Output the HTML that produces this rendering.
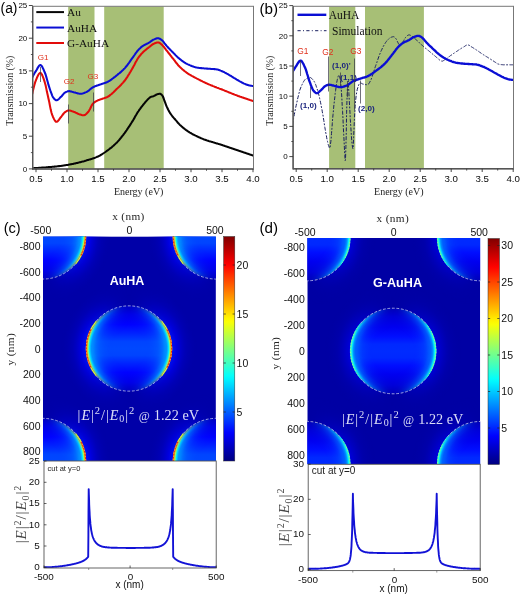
<!DOCTYPE html><html><head><meta charset="utf-8"><title>Figure</title><style>html,body{margin:0;padding:0;background:#fff;overflow:hidden}body{width:520px;height:594px}</style></head><body><svg width="520" height="594" viewBox="0 0 520 594" style="display:block"><defs><clipPath id="clipa"><rect x="32.7" y="6.3" width="220.8" height="162.7"/></clipPath><clipPath id="clipb"><rect x="293.1" y="6.3" width="220.39999999999998" height="162.5"/></clipPath><clipPath id="hcc"><rect x="43" y="236.4" width="172.9" height="224.6"/></clipPath><linearGradient id="inc" x1="0" y1="0" x2="0" y2="1"><stop offset="0" stop-color="#0000c0"/><stop offset="0.1" stop-color="#0000e7"/><stop offset="0.22" stop-color="#0002ff"/><stop offset="0.33" stop-color="#0025ff"/><stop offset="0.42" stop-color="#0044ff"/><stop offset="0.5" stop-color="#0048ff"/><stop offset="0.58" stop-color="#0044ff"/><stop offset="0.67" stop-color="#0025ff"/><stop offset="0.78" stop-color="#0002ff"/><stop offset="0.9" stop-color="#0000e7"/><stop offset="1" stop-color="#0000c0"/></linearGradient><radialGradient id="vdc" cx="0.5" cy="0.5" r="0.5"><stop offset="0.42" stop-color="#0065ff" stop-opacity="0"/><stop offset="0.68" stop-color="#0079ff" stop-opacity="0.55"/><stop offset="0.84" stop-color="#00a1ff" stop-opacity="0.9"/><stop offset="1" stop-color="#00e7ff" stop-opacity="1"/></radialGradient><radialGradient id="rgc" cx="0.5" cy="0.5" r="0.5"><stop offset="0.78" stop-color="#008dff" stop-opacity="0"/><stop offset="0.88" stop-color="#008dff" stop-opacity="0.7"/><stop offset="0.93" stop-color="#00fdff" stop-opacity="0.95"/><stop offset="0.965" stop-color="#ddff22" stop-opacity="1"/><stop offset="1" stop-color="#ba0000" stop-opacity="1"/></radialGradient><linearGradient id="hmc" x1="0" y1="0" x2="1" y2="0"><stop offset="0.000" stop-color="#fff" stop-opacity="1.000"/><stop offset="0.050" stop-color="#fff" stop-opacity="0.845"/><stop offset="0.100" stop-color="#fff" stop-opacity="0.700"/><stop offset="0.150" stop-color="#fff" stop-opacity="0.565"/><stop offset="0.200" stop-color="#fff" stop-opacity="0.442"/><stop offset="0.250" stop-color="#fff" stop-opacity="0.330"/><stop offset="0.300" stop-color="#fff" stop-opacity="0.231"/><stop offset="0.350" stop-color="#fff" stop-opacity="0.146"/><stop offset="0.400" stop-color="#fff" stop-opacity="0.076"/><stop offset="0.450" stop-color="#fff" stop-opacity="0.025"/><stop offset="0.500" stop-color="#fff" stop-opacity="0.000"/><stop offset="0.550" stop-color="#fff" stop-opacity="0.025"/><stop offset="0.600" stop-color="#fff" stop-opacity="0.076"/><stop offset="0.650" stop-color="#fff" stop-opacity="0.146"/><stop offset="0.700" stop-color="#fff" stop-opacity="0.231"/><stop offset="0.750" stop-color="#fff" stop-opacity="0.330"/><stop offset="0.800" stop-color="#fff" stop-opacity="0.442"/><stop offset="0.850" stop-color="#fff" stop-opacity="0.565"/><stop offset="0.900" stop-color="#fff" stop-opacity="0.700"/><stop offset="0.950" stop-color="#fff" stop-opacity="0.845"/><stop offset="1.000" stop-color="#fff" stop-opacity="1.000"/></linearGradient><linearGradient id="hnc" x1="0" y1="0" x2="1" y2="0"><stop offset="0.000" stop-color="#fff" stop-opacity="1.000"/><stop offset="0.050" stop-color="#fff" stop-opacity="0.729"/><stop offset="0.100" stop-color="#fff" stop-opacity="0.512"/><stop offset="0.150" stop-color="#fff" stop-opacity="0.343"/><stop offset="0.200" stop-color="#fff" stop-opacity="0.216"/><stop offset="0.250" stop-color="#fff" stop-opacity="0.125"/><stop offset="0.300" stop-color="#fff" stop-opacity="0.064"/><stop offset="0.350" stop-color="#fff" stop-opacity="0.027"/><stop offset="0.400" stop-color="#fff" stop-opacity="0.008"/><stop offset="0.450" stop-color="#fff" stop-opacity="0.001"/><stop offset="0.500" stop-color="#fff" stop-opacity="0.000"/><stop offset="0.550" stop-color="#fff" stop-opacity="0.001"/><stop offset="0.600" stop-color="#fff" stop-opacity="0.008"/><stop offset="0.650" stop-color="#fff" stop-opacity="0.027"/><stop offset="0.700" stop-color="#fff" stop-opacity="0.064"/><stop offset="0.750" stop-color="#fff" stop-opacity="0.125"/><stop offset="0.800" stop-color="#fff" stop-opacity="0.216"/><stop offset="0.850" stop-color="#fff" stop-opacity="0.343"/><stop offset="0.900" stop-color="#fff" stop-opacity="0.512"/><stop offset="0.950" stop-color="#fff" stop-opacity="0.729"/><stop offset="1.000" stop-color="#fff" stop-opacity="1.000"/></linearGradient><linearGradient id="hoc" x1="0" y1="0" x2="1" y2="0"><stop offset="0.000" stop-color="#fff" stop-opacity="1.000"/><stop offset="0.050" stop-color="#fff" stop-opacity="1.000"/><stop offset="0.100" stop-color="#fff" stop-opacity="1.000"/><stop offset="0.150" stop-color="#fff" stop-opacity="1.000"/><stop offset="0.200" stop-color="#fff" stop-opacity="0.845"/><stop offset="0.250" stop-color="#fff" stop-opacity="0.631"/><stop offset="0.300" stop-color="#fff" stop-opacity="0.442"/><stop offset="0.350" stop-color="#fff" stop-opacity="0.279"/><stop offset="0.400" stop-color="#fff" stop-opacity="0.146"/><stop offset="0.450" stop-color="#fff" stop-opacity="0.048"/><stop offset="0.500" stop-color="#fff" stop-opacity="0.000"/><stop offset="0.550" stop-color="#fff" stop-opacity="0.048"/><stop offset="0.600" stop-color="#fff" stop-opacity="0.146"/><stop offset="0.650" stop-color="#fff" stop-opacity="0.279"/><stop offset="0.700" stop-color="#fff" stop-opacity="0.442"/><stop offset="0.750" stop-color="#fff" stop-opacity="0.631"/><stop offset="0.800" stop-color="#fff" stop-opacity="0.845"/><stop offset="0.850" stop-color="#fff" stop-opacity="1.000"/><stop offset="0.900" stop-color="#fff" stop-opacity="1.000"/><stop offset="0.950" stop-color="#fff" stop-opacity="1.000"/><stop offset="1.000" stop-color="#fff" stop-opacity="1.000"/></linearGradient><radialGradient id="ogc" cx="0.5" cy="0.5" r="0.5"><stop offset="0.62" stop-color="#0014ff" stop-opacity="1"/><stop offset="0.70" stop-color="#0000ee" stop-opacity="0.8"/><stop offset="0.82" stop-color="#0000c9" stop-opacity="0.45"/><stop offset="1" stop-color="#0000a8" stop-opacity="0"/></radialGradient><mask id="mac" maskUnits="userSpaceOnUse" x="-68.32000000000001" y="-68.32000000000001" width="136.64000000000001" height="136.64000000000001"><rect x="-42.7" y="-42.7" width="85.4" height="85.4" fill="url(#hmc)"/></mask><mask id="mbc" maskUnits="userSpaceOnUse" x="-68.32000000000001" y="-68.32000000000001" width="136.64000000000001" height="136.64000000000001"><rect x="-42.7" y="-42.7" width="85.4" height="85.4" fill="url(#hnc)"/></mask><mask id="mcc" maskUnits="userSpaceOnUse" x="-68.32000000000001" y="-68.32000000000001" width="136.64000000000001" height="136.64000000000001"><rect x="-68.32000000000001" y="-68.32000000000001" width="136.64000000000001" height="136.64000000000001" fill="url(#hoc)"/></mask><linearGradient id="cbc" x1="0" y1="0" x2="0" y2="1"><stop offset="0.0000" stop-color="#800000"/><stop offset="0.0159" stop-color="#900000"/><stop offset="0.0317" stop-color="#a00000"/><stop offset="0.0476" stop-color="#b00000"/><stop offset="0.0635" stop-color="#c00000"/><stop offset="0.0794" stop-color="#d00000"/><stop offset="0.0952" stop-color="#e10000"/><stop offset="0.1111" stop-color="#f10000"/><stop offset="0.1270" stop-color="#ff0200"/><stop offset="0.1429" stop-color="#ff1200"/><stop offset="0.1587" stop-color="#ff2200"/><stop offset="0.1746" stop-color="#ff3300"/><stop offset="0.1905" stop-color="#ff4300"/><stop offset="0.2063" stop-color="#ff5300"/><stop offset="0.2222" stop-color="#ff6300"/><stop offset="0.2381" stop-color="#ff7300"/><stop offset="0.2540" stop-color="#ff8400"/><stop offset="0.2698" stop-color="#ff9400"/><stop offset="0.2857" stop-color="#ffa400"/><stop offset="0.3016" stop-color="#ffb400"/><stop offset="0.3175" stop-color="#ffc400"/><stop offset="0.3333" stop-color="#ffd400"/><stop offset="0.3492" stop-color="#ffe500"/><stop offset="0.3651" stop-color="#fff500"/><stop offset="0.3810" stop-color="#f9ff06"/><stop offset="0.3968" stop-color="#e9ff16"/><stop offset="0.4127" stop-color="#d9ff26"/><stop offset="0.4286" stop-color="#c8ff37"/><stop offset="0.4444" stop-color="#b8ff47"/><stop offset="0.4603" stop-color="#a8ff57"/><stop offset="0.4762" stop-color="#98ff67"/><stop offset="0.4921" stop-color="#88ff77"/><stop offset="0.5079" stop-color="#77ff88"/><stop offset="0.5238" stop-color="#67ff98"/><stop offset="0.5397" stop-color="#57ffa8"/><stop offset="0.5556" stop-color="#47ffb8"/><stop offset="0.5714" stop-color="#37ffc8"/><stop offset="0.5873" stop-color="#26ffd9"/><stop offset="0.6032" stop-color="#16ffe9"/><stop offset="0.6190" stop-color="#06fff9"/><stop offset="0.6349" stop-color="#00f5ff"/><stop offset="0.6508" stop-color="#00e5ff"/><stop offset="0.6667" stop-color="#00d5ff"/><stop offset="0.6825" stop-color="#00c4ff"/><stop offset="0.6984" stop-color="#00b4ff"/><stop offset="0.7143" stop-color="#00a4ff"/><stop offset="0.7302" stop-color="#0094ff"/><stop offset="0.7460" stop-color="#0084ff"/><stop offset="0.7619" stop-color="#0073ff"/><stop offset="0.7778" stop-color="#0063ff"/><stop offset="0.7937" stop-color="#0053ff"/><stop offset="0.8095" stop-color="#0043ff"/><stop offset="0.8254" stop-color="#0033ff"/><stop offset="0.8413" stop-color="#0022ff"/><stop offset="0.8571" stop-color="#0012ff"/><stop offset="0.8730" stop-color="#0002ff"/><stop offset="0.8889" stop-color="#0000f1"/><stop offset="0.9048" stop-color="#0000e1"/><stop offset="0.9206" stop-color="#0000d0"/><stop offset="0.9365" stop-color="#0000c0"/><stop offset="0.9524" stop-color="#0000b0"/><stop offset="0.9683" stop-color="#0000a0"/><stop offset="0.9841" stop-color="#000090"/><stop offset="1.0000" stop-color="#000080"/></linearGradient><clipPath id="hcd"><rect x="307.3" y="238" width="172.89999999999998" height="226.3"/></clipPath><linearGradient id="ind" x1="0" y1="0" x2="0" y2="1"><stop offset="0" stop-color="#0000b7"/><stop offset="0.1" stop-color="#0000d9"/><stop offset="0.22" stop-color="#0000ef"/><stop offset="0.33" stop-color="#000eff"/><stop offset="0.42" stop-color="#0028ff"/><stop offset="0.5" stop-color="#002bff"/><stop offset="0.58" stop-color="#0028ff"/><stop offset="0.67" stop-color="#000eff"/><stop offset="0.78" stop-color="#0000ef"/><stop offset="0.9" stop-color="#0000d9"/><stop offset="1" stop-color="#0000b7"/></linearGradient><radialGradient id="vdd" cx="0.5" cy="0.5" r="0.5"><stop offset="0.5" stop-color="#0045ff" stop-opacity="0"/><stop offset="0.72" stop-color="#0056ff" stop-opacity="0.55"/><stop offset="0.86" stop-color="#0078ff" stop-opacity="0.9"/><stop offset="1" stop-color="#00b3ff" stop-opacity="1"/></radialGradient><radialGradient id="rgd" cx="0.5" cy="0.5" r="0.5"><stop offset="0.78" stop-color="#0056ff" stop-opacity="0"/><stop offset="0.88" stop-color="#0056ff" stop-opacity="0.7"/><stop offset="0.93" stop-color="#0097ff" stop-opacity="0.95"/><stop offset="0.965" stop-color="#00faff" stop-opacity="1"/><stop offset="1" stop-color="#7eff81" stop-opacity="1"/></radialGradient><linearGradient id="hmd" x1="0" y1="0" x2="1" y2="0"><stop offset="0.000" stop-color="#fff" stop-opacity="1.000"/><stop offset="0.050" stop-color="#fff" stop-opacity="0.845"/><stop offset="0.100" stop-color="#fff" stop-opacity="0.700"/><stop offset="0.150" stop-color="#fff" stop-opacity="0.565"/><stop offset="0.200" stop-color="#fff" stop-opacity="0.442"/><stop offset="0.250" stop-color="#fff" stop-opacity="0.330"/><stop offset="0.300" stop-color="#fff" stop-opacity="0.231"/><stop offset="0.350" stop-color="#fff" stop-opacity="0.146"/><stop offset="0.400" stop-color="#fff" stop-opacity="0.076"/><stop offset="0.450" stop-color="#fff" stop-opacity="0.025"/><stop offset="0.500" stop-color="#fff" stop-opacity="0.000"/><stop offset="0.550" stop-color="#fff" stop-opacity="0.025"/><stop offset="0.600" stop-color="#fff" stop-opacity="0.076"/><stop offset="0.650" stop-color="#fff" stop-opacity="0.146"/><stop offset="0.700" stop-color="#fff" stop-opacity="0.231"/><stop offset="0.750" stop-color="#fff" stop-opacity="0.330"/><stop offset="0.800" stop-color="#fff" stop-opacity="0.442"/><stop offset="0.850" stop-color="#fff" stop-opacity="0.565"/><stop offset="0.900" stop-color="#fff" stop-opacity="0.700"/><stop offset="0.950" stop-color="#fff" stop-opacity="0.845"/><stop offset="1.000" stop-color="#fff" stop-opacity="1.000"/></linearGradient><linearGradient id="hnd" x1="0" y1="0" x2="1" y2="0"><stop offset="0.000" stop-color="#fff" stop-opacity="1.000"/><stop offset="0.050" stop-color="#fff" stop-opacity="0.777"/><stop offset="0.100" stop-color="#fff" stop-opacity="0.585"/><stop offset="0.150" stop-color="#fff" stop-opacity="0.425"/><stop offset="0.200" stop-color="#fff" stop-opacity="0.293"/><stop offset="0.250" stop-color="#fff" stop-opacity="0.189"/><stop offset="0.300" stop-color="#fff" stop-opacity="0.111"/><stop offset="0.350" stop-color="#fff" stop-opacity="0.056"/><stop offset="0.400" stop-color="#fff" stop-opacity="0.021"/><stop offset="0.450" stop-color="#fff" stop-opacity="0.004"/><stop offset="0.500" stop-color="#fff" stop-opacity="0.000"/><stop offset="0.550" stop-color="#fff" stop-opacity="0.004"/><stop offset="0.600" stop-color="#fff" stop-opacity="0.021"/><stop offset="0.650" stop-color="#fff" stop-opacity="0.056"/><stop offset="0.700" stop-color="#fff" stop-opacity="0.111"/><stop offset="0.750" stop-color="#fff" stop-opacity="0.189"/><stop offset="0.800" stop-color="#fff" stop-opacity="0.293"/><stop offset="0.850" stop-color="#fff" stop-opacity="0.425"/><stop offset="0.900" stop-color="#fff" stop-opacity="0.585"/><stop offset="0.950" stop-color="#fff" stop-opacity="0.777"/><stop offset="1.000" stop-color="#fff" stop-opacity="1.000"/></linearGradient><linearGradient id="hod" x1="0" y1="0" x2="1" y2="0"><stop offset="0.000" stop-color="#fff" stop-opacity="1.000"/><stop offset="0.050" stop-color="#fff" stop-opacity="1.000"/><stop offset="0.100" stop-color="#fff" stop-opacity="1.000"/><stop offset="0.150" stop-color="#fff" stop-opacity="1.000"/><stop offset="0.200" stop-color="#fff" stop-opacity="0.845"/><stop offset="0.250" stop-color="#fff" stop-opacity="0.631"/><stop offset="0.300" stop-color="#fff" stop-opacity="0.442"/><stop offset="0.350" stop-color="#fff" stop-opacity="0.279"/><stop offset="0.400" stop-color="#fff" stop-opacity="0.146"/><stop offset="0.450" stop-color="#fff" stop-opacity="0.048"/><stop offset="0.500" stop-color="#fff" stop-opacity="0.000"/><stop offset="0.550" stop-color="#fff" stop-opacity="0.048"/><stop offset="0.600" stop-color="#fff" stop-opacity="0.146"/><stop offset="0.650" stop-color="#fff" stop-opacity="0.279"/><stop offset="0.700" stop-color="#fff" stop-opacity="0.442"/><stop offset="0.750" stop-color="#fff" stop-opacity="0.631"/><stop offset="0.800" stop-color="#fff" stop-opacity="0.845"/><stop offset="0.850" stop-color="#fff" stop-opacity="1.000"/><stop offset="0.900" stop-color="#fff" stop-opacity="1.000"/><stop offset="0.950" stop-color="#fff" stop-opacity="1.000"/><stop offset="1.000" stop-color="#fff" stop-opacity="1.000"/></linearGradient><radialGradient id="ogd" cx="0.5" cy="0.5" r="0.5"><stop offset="0.62" stop-color="#0000e8" stop-opacity="1"/><stop offset="0.70" stop-color="#0000ce" stop-opacity="0.8"/><stop offset="0.82" stop-color="#0000b4" stop-opacity="0.45"/><stop offset="1" stop-color="#0000a4" stop-opacity="0"/></radialGradient><mask id="mad" maskUnits="userSpaceOnUse" x="-68.48" y="-68.48" width="136.96" height="136.96"><rect x="-42.8" y="-42.8" width="85.6" height="85.6" fill="url(#hmd)"/></mask><mask id="mbd" maskUnits="userSpaceOnUse" x="-68.48" y="-68.48" width="136.96" height="136.96"><rect x="-42.8" y="-42.8" width="85.6" height="85.6" fill="url(#hnd)"/></mask><mask id="mcd" maskUnits="userSpaceOnUse" x="-68.48" y="-68.48" width="136.96" height="136.96"><rect x="-68.48" y="-68.48" width="136.96" height="136.96" fill="url(#hod)"/></mask><linearGradient id="cbd" x1="0" y1="0" x2="0" y2="1"><stop offset="0.0000" stop-color="#800000"/><stop offset="0.0159" stop-color="#900000"/><stop offset="0.0317" stop-color="#a00000"/><stop offset="0.0476" stop-color="#b00000"/><stop offset="0.0635" stop-color="#c00000"/><stop offset="0.0794" stop-color="#d00000"/><stop offset="0.0952" stop-color="#e10000"/><stop offset="0.1111" stop-color="#f10000"/><stop offset="0.1270" stop-color="#ff0200"/><stop offset="0.1429" stop-color="#ff1200"/><stop offset="0.1587" stop-color="#ff2200"/><stop offset="0.1746" stop-color="#ff3300"/><stop offset="0.1905" stop-color="#ff4300"/><stop offset="0.2063" stop-color="#ff5300"/><stop offset="0.2222" stop-color="#ff6300"/><stop offset="0.2381" stop-color="#ff7300"/><stop offset="0.2540" stop-color="#ff8400"/><stop offset="0.2698" stop-color="#ff9400"/><stop offset="0.2857" stop-color="#ffa400"/><stop offset="0.3016" stop-color="#ffb400"/><stop offset="0.3175" stop-color="#ffc400"/><stop offset="0.3333" stop-color="#ffd400"/><stop offset="0.3492" stop-color="#ffe500"/><stop offset="0.3651" stop-color="#fff500"/><stop offset="0.3810" stop-color="#f9ff06"/><stop offset="0.3968" stop-color="#e9ff16"/><stop offset="0.4127" stop-color="#d9ff26"/><stop offset="0.4286" stop-color="#c8ff37"/><stop offset="0.4444" stop-color="#b8ff47"/><stop offset="0.4603" stop-color="#a8ff57"/><stop offset="0.4762" stop-color="#98ff67"/><stop offset="0.4921" stop-color="#88ff77"/><stop offset="0.5079" stop-color="#77ff88"/><stop offset="0.5238" stop-color="#67ff98"/><stop offset="0.5397" stop-color="#57ffa8"/><stop offset="0.5556" stop-color="#47ffb8"/><stop offset="0.5714" stop-color="#37ffc8"/><stop offset="0.5873" stop-color="#26ffd9"/><stop offset="0.6032" stop-color="#16ffe9"/><stop offset="0.6190" stop-color="#06fff9"/><stop offset="0.6349" stop-color="#00f5ff"/><stop offset="0.6508" stop-color="#00e5ff"/><stop offset="0.6667" stop-color="#00d5ff"/><stop offset="0.6825" stop-color="#00c4ff"/><stop offset="0.6984" stop-color="#00b4ff"/><stop offset="0.7143" stop-color="#00a4ff"/><stop offset="0.7302" stop-color="#0094ff"/><stop offset="0.7460" stop-color="#0084ff"/><stop offset="0.7619" stop-color="#0073ff"/><stop offset="0.7778" stop-color="#0063ff"/><stop offset="0.7937" stop-color="#0053ff"/><stop offset="0.8095" stop-color="#0043ff"/><stop offset="0.8254" stop-color="#0033ff"/><stop offset="0.8413" stop-color="#0022ff"/><stop offset="0.8571" stop-color="#0012ff"/><stop offset="0.8730" stop-color="#0002ff"/><stop offset="0.8889" stop-color="#0000f1"/><stop offset="0.9048" stop-color="#0000e1"/><stop offset="0.9206" stop-color="#0000d0"/><stop offset="0.9365" stop-color="#0000c0"/><stop offset="0.9524" stop-color="#0000b0"/><stop offset="0.9683" stop-color="#0000a0"/><stop offset="0.9841" stop-color="#000090"/><stop offset="1.0000" stop-color="#000080"/></linearGradient><clipPath id="ccc"><rect x="44" y="461" width="172.2" height="109"/></clipPath><clipPath id="ccd"><rect x="308.2" y="464.3" width="172.0" height="108.30000000000001"/></clipPath></defs><rect x="0" y="0" width="520" height="594" fill="#fff"/>
<g clip-path="url(#clipa)">
<rect x="68.2" y="6.3" width="26.3" height="162.7" fill="#a7bf76"/>
<rect x="104.2" y="6.3" width="59.5" height="162.7" fill="#a7bf76"/>
<path d="M32.3 168.2 L33.0 168.2 L33.8 168.2 L34.5 168.1 L35.2 168.1 L36.0 168.0 L36.7 168.0 L37.4 167.9 L38.2 167.9 L38.9 167.8 L39.7 167.8 L40.4 167.7 L41.1 167.7 L41.9 167.6 L42.6 167.6 L43.4 167.5 L44.1 167.5 L44.8 167.4 L45.6 167.4 L46.3 167.3 L47.0 167.2 L47.8 167.2 L48.5 167.1 L49.3 167.1 L50.0 167.0 L50.7 167.0 L51.5 166.9 L52.2 166.8 L52.9 166.8 L53.7 166.7 L54.4 166.6 L55.2 166.6 L55.9 166.5 L56.6 166.4 L57.4 166.3 L58.1 166.2 L58.9 166.1 L59.6 166.1 L60.3 166.0 L61.1 165.9 L61.8 165.8 L62.5 165.7 L63.3 165.5 L64.0 165.4 L64.8 165.3 L65.5 165.2 L66.2 165.1 L67.0 165.0 L67.7 164.9 L68.5 164.7 L69.2 164.6 L69.9 164.5 L70.7 164.3 L71.4 164.2 L72.1 164.0 L72.9 163.9 L73.6 163.7 L74.4 163.5 L75.1 163.4 L75.8 163.2 L76.6 163.0 L77.3 162.9 L78.0 162.7 L78.8 162.5 L79.5 162.3 L80.3 162.2 L81.0 162.0 L81.7 161.8 L82.5 161.6 L83.2 161.4 L84.0 161.2 L84.7 161.0 L85.4 160.7 L86.2 160.5 L86.9 160.3 L87.6 160.1 L88.4 159.9 L89.1 159.6 L89.9 159.4 L90.6 159.2 L91.3 158.9 L92.1 158.7 L92.8 158.4 L93.6 158.2 L94.3 157.9 L95.0 157.7 L95.8 157.4 L96.5 157.1 L97.2 156.8 L98.0 156.5 L98.7 156.1 L99.5 155.8 L100.2 155.4 L100.9 154.9 L101.7 154.5 L102.4 154.0 L103.1 153.5 L103.9 153.0 L104.6 152.5 L105.4 152.0 L106.1 151.5 L106.8 150.9 L107.6 150.4 L108.3 149.9 L109.1 149.3 L109.8 148.7 L110.5 148.2 L111.3 147.6 L112.0 147.0 L112.7 146.3 L113.5 145.7 L114.2 145.0 L115.0 144.3 L115.7 143.6 L116.4 142.9 L117.2 142.2 L117.9 141.4 L118.6 140.6 L119.4 139.7 L120.1 138.8 L120.9 137.9 L121.6 137.0 L122.3 136.0 L123.1 135.1 L123.8 134.1 L124.6 133.1 L125.3 132.1 L126.0 131.1 L126.8 130.0 L127.5 128.9 L128.2 127.8 L129.0 126.7 L129.7 125.6 L130.5 124.4 L131.2 123.3 L131.9 122.1 L132.7 120.9 L133.4 119.7 L134.2 118.4 L134.9 117.1 L135.6 115.8 L136.4 114.5 L137.1 113.3 L137.8 112.1 L138.6 111.0 L139.3 109.9 L140.1 108.9 L140.8 107.9 L141.5 106.9 L142.3 106.0 L143.0 105.0 L143.7 104.1 L144.5 103.2 L145.2 102.3 L146.0 101.4 L146.7 100.6 L147.4 99.8 L148.2 99.1 L148.9 98.3 L149.7 97.7 L150.4 97.2 L151.1 96.8 L151.9 96.6 L152.6 96.4 L153.3 96.2 L154.1 95.9 L154.8 95.5 L155.6 95.1 L156.3 94.6 L157.0 94.4 L157.8 94.1 L158.5 93.9 L159.2 93.8 L160.0 93.7 L160.7 94.0 L161.5 94.6 L162.2 95.4 L162.9 96.5 L163.7 98.5 L164.4 100.7 L165.2 102.7 L165.9 104.6 L166.6 106.4 L167.4 108.0 L168.1 109.5 L168.8 110.9 L169.6 112.2 L170.3 113.4 L171.1 114.5 L171.8 115.5 L172.5 116.5 L173.3 117.4 L174.0 118.2 L174.8 119.0 L175.5 119.9 L176.2 120.7 L177.0 121.6 L177.7 122.5 L178.4 123.3 L179.2 124.1 L179.9 124.9 L180.7 125.6 L181.4 126.2 L182.1 126.9 L182.9 127.5 L183.6 128.2 L184.3 128.7 L185.1 129.3 L185.8 129.9 L186.6 130.4 L187.3 130.9 L188.0 131.4 L188.8 131.9 L189.5 132.4 L190.3 132.8 L191.0 133.2 L191.7 133.7 L192.5 134.1 L193.2 134.5 L193.9 134.8 L194.7 135.2 L195.4 135.6 L196.2 135.9 L196.9 136.3 L197.6 136.6 L198.4 137.0 L199.1 137.3 L199.9 137.6 L200.6 138.0 L201.3 138.3 L202.1 138.6 L202.8 138.9 L203.5 139.2 L204.3 139.5 L205.0 139.7 L205.8 140.0 L206.5 140.3 L207.2 140.5 L208.0 140.7 L208.7 141.0 L209.4 141.2 L210.2 141.4 L210.9 141.6 L211.7 141.9 L212.4 142.1 L213.1 142.3 L213.9 142.5 L214.6 142.7 L215.4 142.9 L216.1 143.2 L216.8 143.4 L217.6 143.6 L218.3 143.9 L219.0 144.1 L219.8 144.3 L220.5 144.6 L221.3 144.8 L222.0 145.0 L222.7 145.3 L223.5 145.5 L224.2 145.7 L224.9 146.0 L225.7 146.2 L226.4 146.5 L227.2 146.7 L227.9 147.0 L228.6 147.3 L229.4 147.5 L230.1 147.8 L230.9 148.1 L231.6 148.3 L232.3 148.6 L233.1 148.8 L233.8 149.1 L234.5 149.3 L235.3 149.6 L236.0 149.8 L236.8 150.1 L237.5 150.3 L238.2 150.5 L239.0 150.8 L239.7 151.0 L240.5 151.3 L241.2 151.5 L241.9 151.7 L242.7 152.0 L243.4 152.2 L244.1 152.5 L244.9 152.7 L245.6 153.0 L246.4 153.2 L247.1 153.5 L247.8 153.7 L248.6 154.0 L249.3 154.2 L250.0 154.5 L250.8 154.7 L251.5 155.0 L252.3 155.2 L253.0 155.5" fill="none" stroke="#050505" stroke-width="2.05" stroke-linejoin="round" stroke-linecap="round"/>
<path d="M32.3 93.7 L33.0 90.4 L33.8 87.3 L34.5 84.5 L35.2 82.1 L36.0 80.1 L36.7 78.4 L37.4 76.7 L38.2 75.1 L38.9 73.9 L39.7 73.1 L40.4 72.8 L41.1 73.3 L41.9 74.5 L42.6 76.2 L43.4 78.1 L44.1 80.1 L44.8 82.4 L45.6 85.3 L46.3 88.6 L47.0 92.1 L47.8 95.6 L48.5 98.8 L49.3 102.3 L50.0 106.1 L50.7 109.6 L51.5 112.7 L52.2 114.9 L52.9 116.7 L53.7 118.4 L54.4 119.8 L55.2 121.0 L55.9 121.7 L56.6 121.8 L57.4 121.5 L58.1 120.8 L58.9 119.9 L59.6 118.8 L60.3 117.8 L61.1 117.0 L61.8 116.0 L62.5 115.0 L63.3 114.0 L64.0 113.1 L64.8 112.3 L65.5 111.8 L66.2 111.4 L67.0 110.9 L67.7 110.6 L68.5 110.4 L69.2 110.4 L69.9 110.5 L70.7 110.7 L71.4 110.9 L72.1 111.2 L72.9 111.4 L73.6 111.7 L74.4 112.0 L75.1 112.3 L75.8 112.7 L76.6 113.0 L77.3 113.4 L78.0 113.8 L78.8 114.1 L79.5 114.4 L80.3 114.6 L81.0 114.8 L81.7 115.0 L82.5 115.2 L83.2 115.3 L84.0 115.3 L84.7 115.1 L85.4 114.6 L86.2 114.0 L86.9 113.3 L87.6 112.5 L88.4 111.7 L89.1 110.6 L89.9 109.2 L90.6 107.7 L91.3 106.2 L92.1 104.8 L92.8 103.8 L93.6 103.1 L94.3 102.5 L95.0 101.9 L95.8 101.5 L96.5 101.0 L97.2 100.7 L98.0 100.3 L98.7 100.0 L99.5 99.7 L100.2 99.4 L100.9 99.2 L101.7 99.0 L102.4 98.7 L103.1 98.5 L103.9 98.3 L104.6 98.1 L105.4 97.8 L106.1 97.6 L106.8 97.2 L107.6 96.9 L108.3 96.4 L109.1 96.0 L109.8 95.4 L110.5 94.8 L111.3 94.2 L112.0 93.6 L112.7 92.9 L113.5 92.2 L114.2 91.5 L115.0 90.7 L115.7 90.0 L116.4 89.3 L117.2 88.6 L117.9 87.9 L118.6 87.2 L119.4 86.5 L120.1 85.8 L120.9 85.0 L121.6 84.2 L122.3 83.4 L123.1 82.6 L123.8 81.7 L124.6 80.8 L125.3 79.8 L126.0 78.8 L126.8 77.7 L127.5 76.6 L128.2 75.4 L129.0 74.2 L129.7 72.9 L130.5 71.7 L131.2 70.4 L131.9 69.2 L132.7 67.9 L133.4 66.6 L134.2 65.2 L134.9 63.8 L135.6 62.3 L136.4 61.0 L137.1 59.7 L137.8 58.5 L138.6 57.4 L139.3 56.4 L140.1 55.5 L140.8 54.6 L141.5 53.7 L142.3 53.0 L143.0 52.2 L143.7 51.5 L144.5 50.9 L145.2 50.2 L146.0 49.6 L146.7 49.0 L147.4 48.4 L148.2 47.9 L148.9 47.3 L149.7 46.7 L150.4 46.1 L151.1 45.5 L151.9 44.9 L152.6 44.4 L153.3 44.0 L154.1 43.6 L154.8 43.3 L155.6 43.0 L156.3 42.8 L157.0 42.6 L157.8 42.5 L158.5 42.5 L159.2 42.7 L160.0 43.2 L160.7 43.8 L161.5 44.4 L162.2 45.0 L162.9 45.8 L163.7 46.7 L164.4 47.6 L165.2 48.6 L165.9 49.6 L166.6 50.5 L167.4 51.4 L168.1 52.4 L168.8 53.3 L169.6 54.2 L170.3 55.2 L171.1 56.1 L171.8 57.1 L172.5 58.0 L173.3 58.9 L174.0 59.9 L174.8 60.8 L175.5 61.8 L176.2 62.8 L177.0 63.7 L177.7 64.6 L178.4 65.5 L179.2 66.3 L179.9 67.0 L180.7 67.7 L181.4 68.4 L182.1 69.1 L182.9 69.7 L183.6 70.3 L184.3 70.9 L185.1 71.5 L185.8 72.0 L186.6 72.6 L187.3 73.1 L188.0 73.6 L188.8 74.1 L189.5 74.5 L190.3 75.0 L191.0 75.4 L191.7 75.8 L192.5 76.2 L193.2 76.6 L193.9 77.0 L194.7 77.4 L195.4 77.8 L196.2 78.2 L196.9 78.6 L197.6 78.9 L198.4 79.3 L199.1 79.7 L199.9 80.1 L200.6 80.5 L201.3 80.8 L202.1 81.2 L202.8 81.6 L203.5 81.9 L204.3 82.3 L205.0 82.6 L205.8 83.0 L206.5 83.3 L207.2 83.6 L208.0 84.0 L208.7 84.3 L209.4 84.6 L210.2 84.9 L210.9 85.2 L211.7 85.5 L212.4 85.8 L213.1 86.1 L213.9 86.4 L214.6 86.7 L215.4 87.0 L216.1 87.3 L216.8 87.6 L217.6 87.9 L218.3 88.1 L219.0 88.4 L219.8 88.7 L220.5 88.9 L221.3 89.2 L222.0 89.5 L222.7 89.8 L223.5 90.1 L224.2 90.4 L224.9 90.7 L225.7 91.0 L226.4 91.3 L227.2 91.6 L227.9 91.9 L228.6 92.2 L229.4 92.5 L230.1 92.8 L230.9 93.1 L231.6 93.4 L232.3 93.7 L233.1 94.0 L233.8 94.3 L234.5 94.6 L235.3 94.9 L236.0 95.1 L236.8 95.4 L237.5 95.7 L238.2 96.0 L239.0 96.2 L239.7 96.5 L240.5 96.8 L241.2 97.0 L241.9 97.3 L242.7 97.5 L243.4 97.8 L244.1 98.1 L244.9 98.3 L245.6 98.6 L246.4 98.8 L247.1 99.0 L247.8 99.3 L248.6 99.5 L249.3 99.8 L250.0 100.0 L250.8 100.2 L251.5 100.5 L252.3 100.7 L253.0 100.9" fill="none" stroke="#e20c0a" stroke-width="2.05" stroke-linejoin="round" stroke-linecap="round"/>
<path d="M32.3 77.4 L33.0 76.0 L33.8 74.6 L34.5 73.3 L35.2 72.1 L36.0 70.9 L36.7 69.7 L37.4 68.4 L38.2 67.1 L38.9 66.0 L39.7 65.2 L40.4 65.0 L41.1 65.4 L41.9 66.3 L42.6 67.6 L43.4 69.2 L44.1 70.9 L44.8 72.5 L45.6 74.5 L46.3 76.9 L47.0 79.5 L47.8 82.3 L48.5 84.9 L49.3 87.4 L50.0 89.5 L50.7 91.7 L51.5 93.7 L52.2 95.6 L52.9 97.1 L53.7 98.1 L54.4 99.0 L55.2 99.7 L55.9 100.2 L56.6 100.3 L57.4 100.0 L58.1 99.6 L58.9 98.9 L59.6 98.2 L60.3 97.4 L61.1 96.8 L61.8 96.0 L62.5 95.1 L63.3 94.2 L64.0 93.3 L64.8 92.7 L65.5 92.3 L66.2 91.9 L67.0 91.6 L67.7 91.3 L68.5 91.2 L69.2 91.1 L69.9 91.2 L70.7 91.4 L71.4 91.6 L72.1 91.8 L72.9 92.0 L73.6 92.2 L74.4 92.4 L75.1 92.6 L75.8 92.8 L76.6 93.0 L77.3 93.2 L78.0 93.4 L78.8 93.6 L79.5 93.7 L80.3 93.7 L81.0 93.7 L81.7 93.7 L82.5 93.5 L83.2 93.3 L84.0 93.0 L84.7 92.7 L85.4 92.4 L86.2 92.1 L86.9 91.8 L87.6 91.4 L88.4 90.8 L89.1 90.3 L89.9 89.6 L90.6 89.0 L91.3 88.4 L92.1 87.8 L92.8 87.3 L93.6 87.0 L94.3 86.6 L95.0 86.3 L95.8 86.1 L96.5 85.8 L97.2 85.5 L98.0 85.3 L98.7 85.0 L99.5 84.7 L100.2 84.5 L100.9 84.3 L101.7 84.0 L102.4 83.8 L103.1 83.6 L103.9 83.3 L104.6 83.1 L105.4 82.8 L106.1 82.5 L106.8 82.2 L107.6 81.9 L108.3 81.5 L109.1 81.0 L109.8 80.6 L110.5 80.1 L111.3 79.6 L112.0 79.0 L112.7 78.5 L113.5 77.9 L114.2 77.3 L115.0 76.8 L115.7 76.2 L116.4 75.6 L117.2 75.0 L117.9 74.4 L118.6 73.8 L119.4 73.2 L120.1 72.6 L120.9 71.9 L121.6 71.3 L122.3 70.6 L123.1 69.9 L123.8 69.1 L124.6 68.4 L125.3 67.6 L126.0 66.7 L126.8 65.8 L127.5 64.8 L128.2 63.8 L129.0 62.8 L129.7 61.8 L130.5 60.7 L131.2 59.7 L131.9 58.7 L132.7 57.7 L133.4 56.6 L134.2 55.5 L134.9 54.5 L135.6 53.4 L136.4 52.4 L137.1 51.4 L137.8 50.5 L138.6 49.7 L139.3 48.9 L140.1 48.2 L140.8 47.5 L141.5 46.9 L142.3 46.3 L143.0 45.8 L143.7 45.4 L144.5 45.0 L145.2 44.6 L146.0 44.2 L146.7 43.9 L147.4 43.5 L148.2 43.1 L148.9 42.7 L149.7 42.3 L150.4 41.7 L151.1 41.2 L151.9 40.6 L152.6 40.1 L153.3 39.7 L154.1 39.4 L154.8 39.1 L155.6 38.8 L156.3 38.5 L157.0 38.3 L157.8 38.2 L158.5 38.2 L159.2 38.5 L160.0 38.8 L160.7 39.3 L161.5 39.9 L162.2 40.4 L162.9 41.2 L163.7 42.1 L164.4 43.1 L165.2 44.1 L165.9 45.0 L166.6 45.9 L167.4 46.7 L168.1 47.5 L168.8 48.3 L169.6 49.0 L170.3 49.8 L171.1 50.6 L171.8 51.3 L172.5 52.1 L173.3 52.8 L174.0 53.6 L174.8 54.3 L175.5 55.1 L176.2 55.8 L177.0 56.6 L177.7 57.3 L178.4 57.9 L179.2 58.6 L179.9 59.2 L180.7 59.7 L181.4 60.3 L182.1 60.8 L182.9 61.4 L183.6 61.9 L184.3 62.4 L185.1 62.8 L185.8 63.3 L186.6 63.7 L187.3 64.1 L188.0 64.4 L188.8 64.7 L189.5 65.1 L190.3 65.4 L191.0 65.7 L191.7 66.0 L192.5 66.3 L193.2 66.6 L193.9 66.8 L194.7 67.0 L195.4 67.2 L196.2 67.4 L196.9 67.6 L197.6 67.7 L198.4 67.8 L199.1 67.9 L199.9 68.0 L200.6 68.1 L201.3 68.1 L202.1 68.2 L202.8 68.3 L203.5 68.3 L204.3 68.4 L205.0 68.5 L205.8 68.5 L206.5 68.6 L207.2 68.6 L208.0 68.7 L208.7 68.7 L209.4 68.8 L210.2 68.8 L210.9 68.9 L211.7 68.9 L212.4 68.9 L213.1 69.0 L213.9 69.1 L214.6 69.1 L215.4 69.2 L216.1 69.3 L216.8 69.4 L217.6 69.6 L218.3 69.8 L219.0 70.1 L219.8 70.3 L220.5 70.6 L221.3 70.9 L222.0 71.2 L222.7 71.5 L223.5 71.8 L224.2 72.2 L224.9 72.6 L225.7 73.0 L226.4 73.4 L227.2 73.8 L227.9 74.2 L228.6 74.6 L229.4 75.1 L230.1 75.5 L230.9 75.9 L231.6 76.4 L232.3 76.8 L233.1 77.3 L233.8 77.8 L234.5 78.2 L235.3 78.7 L236.0 79.1 L236.8 79.6 L237.5 80.0 L238.2 80.4 L239.0 80.9 L239.7 81.3 L240.5 81.7 L241.2 82.1 L241.9 82.5 L242.7 82.9 L243.4 83.3 L244.1 83.6 L244.9 83.9 L245.6 84.2 L246.4 84.5 L247.1 84.8 L247.8 85.1 L248.6 85.3 L249.3 85.5 L250.0 85.6 L250.8 85.7 L251.5 85.8 L252.3 85.9 L253.0 85.9" fill="none" stroke="#0a0ed4" stroke-width="2.05" stroke-linejoin="round" stroke-linecap="round"/>
</g>
<rect x="32.7" y="6.3" width="220.8" height="162.7" fill="none" stroke="#777" stroke-width="1"/>
<line x1="32.7" y1="6.3" x2="32.7" y2="169.7" stroke="#555" stroke-width="1.4"/>
<line x1="32.7" y1="169" x2="253.5" y2="169" stroke="#555" stroke-width="1.4"/>
<line x1="36.0" y1="169" x2="36.0" y2="172.2" stroke="#333" stroke-width="0.9"/>
<text x="36.0" y="181.9" font-family='"Liberation Sans", sans-serif' font-size="9.7" fill="#0a0a0a" text-anchor="middle">0.5</text>
<line x1="51.5" y1="169" x2="51.5" y2="170.8" stroke="#333" stroke-width="0.8"/>
<line x1="67.0" y1="169" x2="67.0" y2="172.2" stroke="#333" stroke-width="0.9"/>
<text x="67.0" y="181.9" font-family='"Liberation Sans", sans-serif' font-size="9.7" fill="#0a0a0a" text-anchor="middle">1.0</text>
<line x1="82.5" y1="169" x2="82.5" y2="170.8" stroke="#333" stroke-width="0.8"/>
<line x1="98.0" y1="169" x2="98.0" y2="172.2" stroke="#333" stroke-width="0.9"/>
<text x="98.0" y="181.9" font-family='"Liberation Sans", sans-serif' font-size="9.7" fill="#0a0a0a" text-anchor="middle">1.5</text>
<line x1="113.5" y1="169" x2="113.5" y2="170.8" stroke="#333" stroke-width="0.8"/>
<line x1="129.0" y1="169" x2="129.0" y2="172.2" stroke="#333" stroke-width="0.9"/>
<text x="129.0" y="181.9" font-family='"Liberation Sans", sans-serif' font-size="9.7" fill="#0a0a0a" text-anchor="middle">2.0</text>
<line x1="144.5" y1="169" x2="144.5" y2="170.8" stroke="#333" stroke-width="0.8"/>
<line x1="160.0" y1="169" x2="160.0" y2="172.2" stroke="#333" stroke-width="0.9"/>
<text x="160.0" y="181.9" font-family='"Liberation Sans", sans-serif' font-size="9.7" fill="#0a0a0a" text-anchor="middle">2.5</text>
<line x1="175.5" y1="169" x2="175.5" y2="170.8" stroke="#333" stroke-width="0.8"/>
<line x1="191.0" y1="169" x2="191.0" y2="172.2" stroke="#333" stroke-width="0.9"/>
<text x="191.0" y="181.9" font-family='"Liberation Sans", sans-serif' font-size="9.7" fill="#0a0a0a" text-anchor="middle">3.0</text>
<line x1="206.5" y1="169" x2="206.5" y2="170.8" stroke="#333" stroke-width="0.8"/>
<line x1="222.0" y1="169" x2="222.0" y2="172.2" stroke="#333" stroke-width="0.9"/>
<text x="222.0" y="181.9" font-family='"Liberation Sans", sans-serif' font-size="9.7" fill="#0a0a0a" text-anchor="middle">3.5</text>
<line x1="237.5" y1="169" x2="237.5" y2="170.8" stroke="#333" stroke-width="0.8"/>
<line x1="253.0" y1="169" x2="253.0" y2="172.2" stroke="#333" stroke-width="0.9"/>
<text x="253.0" y="181.9" font-family='"Liberation Sans", sans-serif' font-size="9.7" fill="#0a0a0a" text-anchor="middle">4.0</text>
<line x1="28.900000000000002" y1="168.9" x2="32.7" y2="168.9" stroke="#333" stroke-width="0.9"/>
<text x="27.3" y="171.7" font-family='"Liberation Sans", sans-serif' font-size="8.0" fill="#0a0a0a" text-anchor="end">0</text>
<line x1="28.900000000000002" y1="136.2" x2="32.7" y2="136.2" stroke="#333" stroke-width="0.9"/>
<text x="27.3" y="139.0" font-family='"Liberation Sans", sans-serif' font-size="8.0" fill="#0a0a0a" text-anchor="end">5</text>
<line x1="30.900000000000002" y1="152.6" x2="32.7" y2="152.6" stroke="#333" stroke-width="0.8"/>
<line x1="28.900000000000002" y1="103.6" x2="32.7" y2="103.6" stroke="#333" stroke-width="0.9"/>
<text x="27.3" y="106.3" font-family='"Liberation Sans", sans-serif' font-size="8.0" fill="#0a0a0a" text-anchor="end">10</text>
<line x1="30.900000000000002" y1="119.9" x2="32.7" y2="119.9" stroke="#333" stroke-width="0.8"/>
<line x1="28.900000000000002" y1="70.9" x2="32.7" y2="70.9" stroke="#333" stroke-width="0.9"/>
<text x="27.3" y="73.6" font-family='"Liberation Sans", sans-serif' font-size="8.0" fill="#0a0a0a" text-anchor="end">15</text>
<line x1="30.900000000000002" y1="87.2" x2="32.7" y2="87.2" stroke="#333" stroke-width="0.8"/>
<line x1="28.900000000000002" y1="38.2" x2="32.7" y2="38.2" stroke="#333" stroke-width="0.9"/>
<text x="27.3" y="41.0" font-family='"Liberation Sans", sans-serif' font-size="8.0" fill="#0a0a0a" text-anchor="end">20</text>
<line x1="30.900000000000002" y1="54.5" x2="32.7" y2="54.5" stroke="#333" stroke-width="0.8"/>
<line x1="28.900000000000002" y1="5.5" x2="32.7" y2="5.5" stroke="#333" stroke-width="0.9"/>
<text x="27.3" y="8.3" font-family='"Liberation Sans", sans-serif' font-size="8.0" fill="#0a0a0a" text-anchor="end">25</text>
<line x1="30.900000000000002" y1="21.9" x2="32.7" y2="21.9" stroke="#333" stroke-width="0.8"/>
<text x="0.6" y="12.5" font-family='"Liberation Sans", sans-serif' font-size="13.8" fill="#000">(a)</text>
<text x="13" y="90.7" font-family='"Liberation Serif", serif' font-size="9.9" fill="#222" text-anchor="middle" transform="rotate(-90 13 90.7)">Transmission (%)</text>
<text x="138.7" y="195.2" font-family='"Liberation Serif", serif' font-size="10" fill="#222" text-anchor="middle">Energy (eV)</text>
<line x1="36.3" y1="12.1" x2="64" y2="12.1" stroke="#050505" stroke-width="2.0"/>
<text x="67" y="16.3" font-family='"Liberation Serif", serif' font-size="11.3" fill="#111">Au</text>
<line x1="36.3" y1="27.549999999999997" x2="64" y2="27.549999999999997" stroke="#0a0ed4" stroke-width="2.0"/>
<text x="67" y="31.749999999999996" font-family='"Liberation Serif", serif' font-size="11.3" fill="#111">AuHA</text>
<line x1="36.3" y1="43.0" x2="64" y2="43.0" stroke="#e20c0a" stroke-width="2.0"/>
<text x="67" y="47.2" font-family='"Liberation Serif", serif' font-size="11.3" fill="#111">G-AuHA</text>
<text x="37.8" y="60" font-family='"Liberation Sans", sans-serif' font-size="8.1" fill="#e0301c">G1</text>
<text x="63.7" y="83.8" font-family='"Liberation Sans", sans-serif' font-size="8.1" fill="#e0301c">G2</text>
<text x="87.5" y="78.8" font-family='"Liberation Sans", sans-serif' font-size="8.1" fill="#e0301c">G3</text>
<line x1="40.5" y1="67" x2="40.5" y2="82" stroke="#334" stroke-width="0.7"/>
<line x1="68.5" y1="104.5" x2="68.5" y2="123.5" stroke="#334" stroke-width="0.7"/>
<line x1="93.5" y1="92.5" x2="93.5" y2="111.5" stroke="#334" stroke-width="0.7"/>
<g clip-path="url(#clipb)">
<rect x="329.1" y="6.3" width="26.2" height="162.5" fill="#a7bf76"/>
<rect x="365.0" y="6.3" width="58.9" height="162.5" fill="#a7bf76"/>
<path d="M292.5 124.6 L292.8 122.5 L293.2 120.4 L293.6 118.3 L294.0 116.3 L294.3 114.4 L294.7 112.5 L295.1 110.6 L295.4 108.8 L295.8 107.1 L296.2 105.4 L296.5 103.8 L296.9 102.2 L297.3 100.5 L297.6 98.9 L298.0 97.3 L298.4 95.8 L298.7 94.3 L299.1 92.9 L299.5 91.5 L299.8 90.2 L300.2 89.0 L300.6 88.0 L301.0 87.0 L301.3 86.2 L301.7 85.4 L302.1 84.6 L302.4 83.8 L302.8 83.1 L303.2 82.4 L303.5 81.7 L303.9 81.1 L304.3 80.6 L304.6 80.1 L305.0 79.6 L305.4 79.2 L305.7 78.9 L306.1 78.7 L306.5 78.5 L306.9 78.3 L307.2 78.1 L307.6 78.0 L308.0 77.8 L308.3 77.7 L308.7 77.6 L309.1 77.5 L309.4 77.5 L309.8 77.5 L310.2 77.5 L310.5 77.6 L310.9 77.8 L311.3 78.1 L311.6 78.4 L312.0 78.7 L312.4 79.1 L312.7 79.5 L313.1 80.0 L313.5 80.4 L313.9 80.9 L314.2 81.5 L314.6 82.2 L315.0 82.9 L315.3 83.8 L315.7 84.7 L316.1 85.7 L316.4 86.8 L316.8 87.9 L317.2 89.0 L317.5 90.2 L317.9 91.4 L318.3 92.6 L318.6 94.0 L319.0 95.5 L319.4 97.1 L319.7 98.7 L320.1 100.5 L320.5 102.3 L320.9 104.1 L321.2 106.0 L321.6 107.9 L322.0 109.8 L322.3 111.8 L322.7 113.8 L323.1 116.0 L323.4 118.2 L323.8 120.6 L324.2 122.9 L324.5 125.3 L324.9 127.6 L325.3 129.8 L325.6 131.9 L326.0 133.9 L326.4 135.8 L326.7 137.8 L327.1 139.6 L327.5 141.4 L327.9 143.0 L328.2 144.4 L328.6 145.6 L329.0 146.8 L329.3 147.8 L329.7 148.1 L330.1 147.0 L330.4 144.6 L330.8 141.8 L331.2 138.0 L331.5 133.5 L331.9 128.5 L332.3 123.5 L332.6 118.9 L333.0 114.8 L333.4 110.9 L333.7 107.1 L334.1 103.4 L334.5 99.9 L334.9 96.6 L335.2 93.5 L335.6 90.5 L336.0 87.6 L336.3 85.0 L336.7 82.6 L337.1 80.7 L337.4 79.2 L337.8 77.7 L338.2 76.4 L338.5 75.5 L338.9 75.1 L339.3 75.4 L339.6 76.5 L340.0 78.1 L340.4 80.2 L340.8 82.8 L341.1 87.1 L341.5 92.7 L341.9 99.0 L342.2 105.5 L342.6 111.8 L343.0 119.0 L343.3 126.6 L343.7 134.2 L344.1 141.3 L344.4 147.9 L344.8 155.3 L345.2 160.6 L345.5 159.4 L345.9 146.5 L346.3 131.4 L346.6 112.9 L347.0 99.4 L347.4 89.0 L347.8 81.9 L348.1 81.1 L348.5 86.1 L348.9 93.3 L349.2 99.5 L349.6 106.1 L350.0 112.9 L350.3 119.5 L350.7 125.5 L351.1 131.0 L351.4 136.3 L351.8 141.1 L352.2 144.8 L352.5 147.2 L352.9 148.7 L353.3 145.7 L353.6 137.3 L354.0 129.1 L354.4 119.9 L354.8 111.9 L355.1 106.2 L355.5 101.5 L355.9 98.1 L356.2 95.3 L356.6 92.9 L357.0 90.9 L357.3 89.2 L357.7 88.0 L358.1 86.8 L358.4 85.7 L358.8 84.7 L359.2 83.8 L359.5 83.2 L359.9 82.9 L360.3 82.9 L360.6 83.0 L361.0 83.1 L361.4 83.3 L361.8 83.5 L362.1 83.7 L362.5 83.9 L362.9 84.0 L363.2 84.1 L363.6 84.2 L364.0 84.3 L364.3 84.4 L364.7 84.4 L365.1 84.5 L365.4 84.6 L365.8 84.6 L366.2 84.6 L366.5 84.7 L366.9 84.7 L367.3 84.7 L367.7 84.7 L368.0 84.5 L368.4 84.2 L368.8 83.8 L369.1 83.2 L369.5 82.6 L369.9 81.9 L370.2 81.2 L370.6 80.5 L371.0 79.8 L371.3 78.9 L371.7 78.0 L372.1 77.0 L372.4 75.9 L372.8 74.7 L373.2 73.6 L373.5 72.3 L373.9 71.1 L374.3 69.9 L374.7 68.7 L375.0 67.6 L375.4 66.5 L375.8 65.4 L376.1 64.4 L376.5 63.3 L376.9 62.3 L377.2 61.2 L377.6 60.1 L378.0 59.1 L378.3 58.0 L378.7 57.0 L379.1 56.0 L379.4 55.0 L379.8 54.1 L380.2 53.1 L380.5 52.2 L380.9 51.4 L381.3 50.6 L381.7 49.8 L382.0 49.0 L382.4 48.2 L382.8 47.5 L383.1 46.8 L383.5 46.0 L383.9 45.4 L384.2 44.7 L384.6 44.1 L385.0 43.5 L385.3 42.9 L385.7 42.4 L386.1 41.9 L386.4 41.4 L386.8 41.0 L387.2 40.5 L387.5 40.1 L387.9 39.7 L388.3 39.3 L388.7 38.9 L389.0 38.6 L389.4 38.3 L389.8 38.0 L390.1 37.8 L390.5 37.6 L390.9 37.4 L391.2 37.3 L391.6 37.1 L392.0 37.0 L392.3 36.9 L392.7 36.8 L393.1 36.7 L393.4 36.7 L393.8 36.7 L394.2 36.9 L394.5 37.2 L394.9 37.5 L395.3 37.9 L395.7 38.4 L396.0 38.8 L396.4 39.4 L396.8 40.1 L397.1 40.9 L397.5 41.7 L397.9 42.5 L398.2 43.2 L398.6 43.8 L399.0 44.4 L399.3 44.9 L399.7 45.3 L400.1 45.5 L400.4 45.3 L400.8 45.0 L401.2 44.5 L401.6 44.0 L401.9 43.5 L402.3 43.0 L402.7 42.4 L403.0 41.8 L403.4 41.2 L403.8 40.5 L404.1 39.8 L404.5 39.1 L404.9 38.5 L405.2 37.9 L405.6 37.4 L406.0 37.0 L406.3 36.6 L406.7 36.3 L407.1 35.9 L407.4 35.6 L407.8 35.3 L408.2 35.1 L408.6 35.0 L408.9 34.9 L409.3 34.9 L409.7 35.0 L410.0 35.1 L410.4 35.3 L410.8 35.5 L411.1 35.7 L411.5 36.0 L411.9 36.2 L412.2 36.5 L412.6 36.7 L413.0 37.0 L413.3 37.3 L413.7 37.6 L414.1 37.9 L414.4 38.2 L414.8 38.5 L415.2 38.9 L415.6 39.2 L415.9 39.6 L416.3 39.9 L416.7 40.2 L417.0 40.6 L417.4 40.9 L417.8 41.2 L418.1 41.6 L418.5 41.9 L418.9 42.3 L419.2 42.6 L419.6 42.9 L420.0 43.3 L420.3 43.6 L420.7 44.0 L421.1 44.3 L421.4 44.7 L421.8 45.0 L422.2 45.4 L422.6 45.7 L422.9 46.0 L423.3 46.4 L423.7 46.7 L424.0 47.0 L424.4 47.3 L424.8 47.6 L425.1 47.9 L425.5 48.2 L425.9 48.5 L426.2 48.8 L426.6 49.1 L427.0 49.4 L427.3 49.7 L427.7 50.0 L428.1 50.3 L428.4 50.6 L428.8 50.9 L429.2 51.2 L429.6 51.5 L429.9 51.9 L430.3 52.2 L430.7 52.5 L431.0 52.8 L431.4 53.1 L431.8 53.4 L432.1 53.7 L432.5 54.0 L432.9 54.3 L433.2 54.6 L433.6 54.9 L434.0 55.2 L434.3 55.5 L434.7 55.8 L435.1 56.1 L435.5 56.4 L435.8 56.7 L436.2 57.1 L436.6 57.4 L436.9 57.7 L437.3 58.1 L437.7 58.4 L438.0 58.8 L438.4 59.1 L438.8 59.4 L439.1 59.7 L439.5 59.9 L439.9 60.2 L440.2 60.4 L440.6 60.6 L441.0 60.8 L441.3 61.0 L441.7 61.1 L442.1 61.2 L442.5 61.1 L442.8 61.0 L443.2 60.8 L443.6 60.5 L443.9 60.3 L444.3 60.0 L444.7 59.8 L445.0 59.5 L445.4 59.3 L445.8 59.1 L446.1 58.8 L446.5 58.5 L446.9 58.3 L447.2 58.0 L447.6 57.7 L448.0 57.5 L448.3 57.2 L448.7 56.9 L449.1 56.7 L449.5 56.4 L449.8 56.1 L450.2 55.8 L450.6 55.6 L450.9 55.3 L451.3 55.1 L451.7 54.8 L452.0 54.6 L452.4 54.3 L452.8 54.0 L453.1 53.8 L453.5 53.5 L453.9 53.3 L454.2 53.0 L454.6 52.8 L455.0 52.5 L455.3 52.3 L455.7 52.0 L456.1 51.8 L456.5 51.5 L456.8 51.3 L457.2 51.0 L457.6 50.8 L457.9 50.6 L458.3 50.3 L458.7 50.1 L459.0 49.8 L459.4 49.6 L459.8 49.3 L460.1 49.1 L460.5 48.9 L460.9 48.6 L461.2 48.4 L461.6 48.2 L462.0 47.9 L462.3 47.7 L462.7 47.5 L463.1 47.3 L463.5 47.1 L463.8 46.8 L464.2 46.6 L464.6 46.4 L464.9 46.1 L465.3 45.8 L465.7 45.6 L466.0 45.4 L466.4 45.2 L466.8 45.0 L467.1 44.9 L467.5 44.9 L467.9 44.9 L468.2 44.9 L468.6 45.1 L469.0 45.2 L469.4 45.4 L469.7 45.7 L470.1 45.9 L470.5 46.2 L470.8 46.4 L471.2 46.7 L471.6 46.9 L471.9 47.1 L472.3 47.3 L472.7 47.6 L473.0 47.8 L473.4 48.0 L473.8 48.3 L474.1 48.5 L474.5 48.7 L474.9 49.0 L475.2 49.2 L475.6 49.4 L476.0 49.7 L476.4 49.9 L476.7 50.2 L477.1 50.4 L477.5 50.7 L477.8 50.9 L478.2 51.2 L478.6 51.4 L478.9 51.7 L479.3 51.9 L479.7 52.2 L480.0 52.5 L480.4 52.7 L480.8 53.0 L481.1 53.2 L481.5 53.5 L481.9 53.7 L482.2 54.0 L482.6 54.2 L483.0 54.4 L483.4 54.7 L483.7 54.9 L484.1 55.1 L484.5 55.4 L484.8 55.6 L485.2 55.8 L485.6 56.1 L485.9 56.3 L486.3 56.5 L486.7 56.8 L487.0 57.0 L487.4 57.2 L487.8 57.5 L488.1 57.7 L488.5 57.9 L488.9 58.2 L489.2 58.4 L489.6 58.6 L490.0 58.9 L490.4 59.1 L490.7 59.3 L491.1 59.6 L491.5 59.8 L491.8 60.0 L492.2 60.3 L492.6 60.5 L492.9 60.7 L493.3 61.0 L493.7 61.2 L494.0 61.4 L494.4 61.7 L494.8 61.9 L495.1 62.1 L495.5 62.4 L495.9 62.7 L496.2 62.9 L496.6 63.2 L497.0 63.4 L497.4 63.7 L497.7 63.9 L498.1 64.0 L498.5 64.1 L498.8 64.2 L499.2 64.3 L499.6 64.4 L499.9 64.4 L500.3 64.5 L500.7 64.5 L501.0 64.6 L501.4 64.6 L501.8 64.7 L502.1 64.7 L502.5 64.7 L502.9 64.8 L503.3 64.8 L503.6 64.8 L504.0 64.8 L504.4 64.8 L504.7 64.8 L505.1 64.8 L505.5 64.8 L505.8 64.8 L506.2 64.8 L506.6 64.8 L506.9 64.8 L507.3 64.8 L507.7 64.8 L508.0 64.8 L508.4 64.8 L508.8 64.8 L509.1 64.8 L509.5 64.8 L509.9 64.8 L510.3 64.8 L510.6 64.8 L511.0 64.8 L511.4 64.8 L511.7 64.8 L512.1 64.8 L512.5 64.8 L512.8 64.8 L513.2 64.8" fill="none" stroke="#1a2060" stroke-width="1.0" stroke-linejoin="round" stroke-linecap="round" stroke-dasharray="3.2 2.3 1 2.3" stroke-linecap="butt"/>
<path d="M292.5 72.0 L293.2 70.7 L294.0 69.5 L294.7 68.3 L295.4 67.1 L296.2 66.0 L296.9 64.9 L297.6 63.7 L298.4 62.5 L299.1 61.5 L299.9 60.8 L300.6 60.6 L301.3 60.9 L302.1 61.8 L302.8 63.0 L303.6 64.4 L304.3 66.0 L305.0 67.5 L305.8 69.4 L306.5 71.6 L307.2 74.0 L308.0 76.5 L308.7 79.0 L309.5 81.3 L310.2 83.2 L310.9 85.2 L311.7 87.1 L312.4 88.8 L313.1 90.2 L313.9 91.1 L314.6 91.9 L315.4 92.6 L316.1 93.1 L316.8 93.2 L317.6 93.0 L318.3 92.5 L319.1 91.9 L319.8 91.2 L320.5 90.6 L321.3 89.9 L322.0 89.2 L322.7 88.4 L323.5 87.5 L324.2 86.8 L325.0 86.2 L325.7 85.8 L326.4 85.4 L327.2 85.1 L327.9 84.9 L328.7 84.7 L329.4 84.7 L330.1 84.8 L330.9 84.9 L331.6 85.1 L332.3 85.3 L333.1 85.5 L333.8 85.7 L334.6 85.9 L335.3 86.1 L336.0 86.3 L336.8 86.5 L337.5 86.6 L338.2 86.8 L339.0 87.0 L339.7 87.1 L340.5 87.1 L341.2 87.1 L341.9 87.1 L342.7 86.9 L343.4 86.7 L344.2 86.5 L344.9 86.2 L345.6 85.9 L346.4 85.6 L347.1 85.3 L347.8 84.9 L348.6 84.5 L349.3 83.9 L350.1 83.3 L350.8 82.7 L351.5 82.2 L352.3 81.6 L353.0 81.2 L353.8 80.9 L354.5 80.6 L355.2 80.3 L356.0 80.0 L356.7 79.8 L357.4 79.5 L358.2 79.3 L358.9 79.0 L359.7 78.8 L360.4 78.6 L361.1 78.4 L361.9 78.2 L362.6 77.9 L363.3 77.7 L364.1 77.5 L364.8 77.3 L365.6 77.0 L366.3 76.8 L367.0 76.5 L367.8 76.1 L368.5 75.8 L369.3 75.4 L370.0 75.0 L370.7 74.5 L371.5 74.1 L372.2 73.6 L372.9 73.0 L373.7 72.5 L374.4 72.0 L375.2 71.4 L375.9 70.9 L376.6 70.3 L377.4 69.8 L378.1 69.3 L378.8 68.7 L379.6 68.1 L380.3 67.6 L381.1 67.0 L381.8 66.4 L382.5 65.7 L383.3 65.1 L384.0 64.4 L384.8 63.7 L385.5 62.9 L386.2 62.1 L387.0 61.3 L387.7 60.4 L388.4 59.5 L389.2 58.5 L389.9 57.6 L390.7 56.6 L391.4 55.7 L392.1 54.7 L392.9 53.8 L393.6 52.8 L394.4 51.8 L395.1 50.8 L395.8 49.8 L396.6 48.9 L397.3 48.0 L398.0 47.1 L398.8 46.4 L399.5 45.7 L400.3 45.0 L401.0 44.4 L401.7 43.8 L402.5 43.3 L403.2 42.8 L403.9 42.4 L404.7 42.0 L405.4 41.7 L406.2 41.4 L406.9 41.1 L407.6 40.7 L408.4 40.4 L409.1 40.0 L409.9 39.5 L410.6 39.1 L411.3 38.5 L412.1 38.0 L412.8 37.6 L413.5 37.2 L414.3 36.9 L415.0 36.6 L415.8 36.3 L416.5 36.1 L417.2 35.9 L418.0 35.8 L418.7 35.8 L419.4 36.0 L420.2 36.4 L420.9 36.8 L421.7 37.3 L422.4 37.9 L423.1 38.6 L423.9 39.4 L424.6 40.3 L425.4 41.2 L426.1 42.1 L426.8 42.9 L427.6 43.6 L428.3 44.4 L429.0 45.1 L429.8 45.8 L430.5 46.5 L431.3 47.2 L432.0 47.9 L432.7 48.6 L433.5 49.3 L434.2 50.0 L435.0 50.7 L435.7 51.4 L436.4 52.1 L437.2 52.8 L437.9 53.4 L438.6 54.0 L439.4 54.6 L440.1 55.2 L440.9 55.7 L441.6 56.2 L442.3 56.7 L443.1 57.2 L443.8 57.7 L444.5 58.1 L445.3 58.6 L446.0 59.0 L446.8 59.3 L447.5 59.7 L448.2 60.0 L449.0 60.3 L449.7 60.6 L450.5 60.9 L451.2 61.2 L451.9 61.5 L452.7 61.8 L453.4 62.0 L454.1 62.2 L454.9 62.4 L455.6 62.6 L456.4 62.8 L457.1 62.9 L457.8 63.0 L458.6 63.1 L459.3 63.2 L460.1 63.3 L460.8 63.4 L461.5 63.5 L462.3 63.5 L463.0 63.6 L463.7 63.7 L464.5 63.7 L465.2 63.8 L466.0 63.8 L466.7 63.9 L467.4 63.9 L468.2 64.0 L468.9 64.0 L469.6 64.1 L470.4 64.1 L471.1 64.1 L471.9 64.2 L472.6 64.2 L473.3 64.3 L474.1 64.3 L474.8 64.4 L475.6 64.4 L476.3 64.5 L477.0 64.7 L477.8 64.8 L478.5 65.0 L479.2 65.2 L480.0 65.5 L480.7 65.8 L481.5 66.0 L482.2 66.3 L482.9 66.6 L483.7 66.9 L484.4 67.2 L485.1 67.6 L485.9 67.9 L486.6 68.3 L487.4 68.7 L488.1 69.1 L488.8 69.5 L489.6 69.9 L490.3 70.3 L491.1 70.7 L491.8 71.1 L492.5 71.5 L493.3 71.9 L494.0 72.4 L494.7 72.8 L495.5 73.2 L496.2 73.6 L497.0 74.1 L497.7 74.5 L498.4 74.8 L499.2 75.2 L499.9 75.6 L500.7 76.0 L501.4 76.4 L502.1 76.8 L502.9 77.1 L503.6 77.5 L504.3 77.8 L505.1 78.1 L505.8 78.3 L506.6 78.6 L507.3 78.9 L508.0 79.1 L508.8 79.3 L509.5 79.5 L510.2 79.6 L511.0 79.7 L511.7 79.8 L512.5 79.9 L513.2 79.9" fill="none" stroke="#0a0ed4" stroke-width="2.35" stroke-linejoin="round" stroke-linecap="round"/>
</g>
<rect x="293.1" y="6.3" width="220.39999999999998" height="162.5" fill="none" stroke="#777" stroke-width="1"/>
<line x1="293.1" y1="6.3" x2="293.1" y2="169.5" stroke="#555" stroke-width="1.4"/>
<line x1="293.1" y1="168.8" x2="513.5" y2="168.8" stroke="#555" stroke-width="1.4"/>
<line x1="296.2" y1="168.8" x2="296.2" y2="172.0" stroke="#333" stroke-width="0.9"/>
<text x="296.2" y="181.70000000000002" font-family='"Liberation Sans", sans-serif' font-size="9.7" fill="#0a0a0a" text-anchor="middle">0.5</text>
<line x1="311.7" y1="168.8" x2="311.7" y2="170.60000000000002" stroke="#333" stroke-width="0.8"/>
<line x1="327.2" y1="168.8" x2="327.2" y2="172.0" stroke="#333" stroke-width="0.9"/>
<text x="327.2" y="181.70000000000002" font-family='"Liberation Sans", sans-serif' font-size="9.7" fill="#0a0a0a" text-anchor="middle">1.0</text>
<line x1="342.7" y1="168.8" x2="342.7" y2="170.60000000000002" stroke="#333" stroke-width="0.8"/>
<line x1="358.2" y1="168.8" x2="358.2" y2="172.0" stroke="#333" stroke-width="0.9"/>
<text x="358.2" y="181.70000000000002" font-family='"Liberation Sans", sans-serif' font-size="9.7" fill="#0a0a0a" text-anchor="middle">1.5</text>
<line x1="373.7" y1="168.8" x2="373.7" y2="170.60000000000002" stroke="#333" stroke-width="0.8"/>
<line x1="389.2" y1="168.8" x2="389.2" y2="172.0" stroke="#333" stroke-width="0.9"/>
<text x="389.2" y="181.70000000000002" font-family='"Liberation Sans", sans-serif' font-size="9.7" fill="#0a0a0a" text-anchor="middle">2.0</text>
<line x1="404.7" y1="168.8" x2="404.7" y2="170.60000000000002" stroke="#333" stroke-width="0.8"/>
<line x1="420.2" y1="168.8" x2="420.2" y2="172.0" stroke="#333" stroke-width="0.9"/>
<text x="420.2" y="181.70000000000002" font-family='"Liberation Sans", sans-serif' font-size="9.7" fill="#0a0a0a" text-anchor="middle">2.5</text>
<line x1="435.7" y1="168.8" x2="435.7" y2="170.60000000000002" stroke="#333" stroke-width="0.8"/>
<line x1="451.2" y1="168.8" x2="451.2" y2="172.0" stroke="#333" stroke-width="0.9"/>
<text x="451.2" y="181.70000000000002" font-family='"Liberation Sans", sans-serif' font-size="9.7" fill="#0a0a0a" text-anchor="middle">3.0</text>
<line x1="466.7" y1="168.8" x2="466.7" y2="170.60000000000002" stroke="#333" stroke-width="0.8"/>
<line x1="482.2" y1="168.8" x2="482.2" y2="172.0" stroke="#333" stroke-width="0.9"/>
<text x="482.2" y="181.70000000000002" font-family='"Liberation Sans", sans-serif' font-size="9.7" fill="#0a0a0a" text-anchor="middle">3.5</text>
<line x1="497.7" y1="168.8" x2="497.7" y2="170.60000000000002" stroke="#333" stroke-width="0.8"/>
<line x1="513.2" y1="168.8" x2="513.2" y2="172.0" stroke="#333" stroke-width="0.9"/>
<text x="513.2" y="181.70000000000002" font-family='"Liberation Sans", sans-serif' font-size="9.7" fill="#0a0a0a" text-anchor="middle">4.0</text>
<line x1="289.3" y1="156.6" x2="293.1" y2="156.6" stroke="#333" stroke-width="0.9"/>
<text x="287.6" y="159.4" font-family='"Liberation Sans", sans-serif' font-size="8.0" fill="#0a0a0a" text-anchor="end">0</text>
<line x1="289.3" y1="126.4" x2="293.1" y2="126.4" stroke="#333" stroke-width="0.9"/>
<text x="287.6" y="129.2" font-family='"Liberation Sans", sans-serif' font-size="8.0" fill="#0a0a0a" text-anchor="end">5</text>
<line x1="291.3" y1="141.5" x2="293.1" y2="141.5" stroke="#333" stroke-width="0.8"/>
<line x1="289.3" y1="96.2" x2="293.1" y2="96.2" stroke="#333" stroke-width="0.9"/>
<text x="287.6" y="99.0" font-family='"Liberation Sans", sans-serif' font-size="8.0" fill="#0a0a0a" text-anchor="end">10</text>
<line x1="291.3" y1="111.3" x2="293.1" y2="111.3" stroke="#333" stroke-width="0.8"/>
<line x1="289.3" y1="66.0" x2="293.1" y2="66.0" stroke="#333" stroke-width="0.9"/>
<text x="287.6" y="68.8" font-family='"Liberation Sans", sans-serif' font-size="8.0" fill="#0a0a0a" text-anchor="end">15</text>
<line x1="291.3" y1="81.1" x2="293.1" y2="81.1" stroke="#333" stroke-width="0.8"/>
<line x1="289.3" y1="35.8" x2="293.1" y2="35.8" stroke="#333" stroke-width="0.9"/>
<text x="287.6" y="38.6" font-family='"Liberation Sans", sans-serif' font-size="8.0" fill="#0a0a0a" text-anchor="end">20</text>
<line x1="291.3" y1="50.9" x2="293.1" y2="50.9" stroke="#333" stroke-width="0.8"/>
<line x1="289.3" y1="5.6" x2="293.1" y2="5.6" stroke="#333" stroke-width="0.9"/>
<text x="287.6" y="8.4" font-family='"Liberation Sans", sans-serif' font-size="8.0" fill="#0a0a0a" text-anchor="end">25</text>
<line x1="291.3" y1="20.7" x2="293.1" y2="20.7" stroke="#333" stroke-width="0.8"/>
<text x="259.4" y="13.5" font-family='"Liberation Sans", sans-serif' font-size="15.2" fill="#000">(b)</text>
<text x="273.2" y="90.7" font-family='"Liberation Serif", serif' font-size="9.9" fill="#222" text-anchor="middle" transform="rotate(-90 273.2 90.7)">Transmission (%)</text>
<text x="398.8" y="195.2" font-family='"Liberation Serif", serif' font-size="10" fill="#222" text-anchor="middle">Energy (eV)</text>
<line x1="297.5" y1="14.8" x2="326.3" y2="14.8" stroke="#0a0ed4" stroke-width="2.4"/>
<text x="328.7" y="19.3" font-family='"Liberation Serif", serif' font-size="11.5" fill="#111">AuHA</text>
<line x1="297.5" y1="30.7" x2="326.5" y2="30.7" stroke="#1a2060" stroke-width="1.0" stroke-dasharray="3.2 2.3 1 2.3"/>
<text x="332" y="35.3" font-family='"Liberation Serif", serif' font-size="11.5" fill="#111">Simulation</text>
<text x="297.2" y="54.2" font-family='"Liberation Sans", sans-serif' font-size="8.4" fill="#e0301c">G1</text>
<text x="322.2" y="54.8" font-family='"Liberation Sans", sans-serif' font-size="8.4" fill="#e0301c">G2</text>
<text x="350.3" y="54.2" font-family='"Liberation Sans", sans-serif' font-size="8.4" fill="#e0301c">G3</text>
<text x="332" y="68.3" font-family='"Liberation Sans", sans-serif' font-size="8.1" fill="#1a237e" font-weight="bold">(1,0)'</text>
<text x="340.3" y="79.8" font-family='"Liberation Sans", sans-serif' font-size="8.1" fill="#1a237e" font-weight="bold">(1,1)</text>
<text x="300" y="107.8" font-family='"Liberation Sans", sans-serif' font-size="8.1" fill="#1a237e" font-weight="bold">(1,0)</text>
<text x="358" y="110.8" font-family='"Liberation Sans", sans-serif' font-size="8.1" fill="#1a237e" font-weight="bold">(2,0)</text>
<line x1="300.5" y1="60.5" x2="300.5" y2="76" stroke="#334" stroke-width="0.7"/>
<line x1="310.5" y1="87" x2="310.5" y2="98" stroke="#334" stroke-width="0.7"/>
<line x1="328.5" y1="56.5" x2="328.5" y2="91.5" stroke="#334" stroke-width="0.7"/>
<line x1="340.5" y1="72.5" x2="340.5" y2="86" stroke="#334" stroke-width="0.7"/>
<line x1="347.5" y1="81.5" x2="347.5" y2="97" stroke="#334" stroke-width="0.7"/>
<line x1="354.5" y1="58.5" x2="354.5" y2="110" stroke="#334" stroke-width="0.7"/>
<line x1="360.5" y1="80.5" x2="360.5" y2="103.5" stroke="#334" stroke-width="0.7"/>
<g clip-path="url(#hcc)">
<rect x="43" y="236.4" width="172.9" height="224.6" fill="#0000a8"/>
<g transform="translate(129 348.5)">
<circle r="68.32000000000001" fill="url(#ogc)" mask="url(#mcc)"/>
<circle r="42.7" fill="url(#inc)"/>
<circle r="42.7" fill="url(#vdc)" mask="url(#mac)"/>
<circle r="42.7" fill="url(#rgc)" mask="url(#mbc)"/>
<path d="M-32.7 -27.4 A42.7 42.7 0 0 1 32.7 -27.4" fill="none" stroke="#eef3ff" stroke-opacity="0.85" stroke-width="0.75" stroke-dasharray="2.8 1.7"/>
<path d="M32.7 27.4 A42.7 42.7 0 0 1 -32.7 27.4" fill="none" stroke="#eef3ff" stroke-opacity="0.85" stroke-width="0.75" stroke-dasharray="2.8 1.7"/>
<path d="M32.7 -27.4 A42.7 42.7 0 0 1 32.7 27.4" fill="none" stroke="#ddff22" stroke-opacity="0.9" stroke-width="1.3" stroke-dasharray="none"/>
<path d="M38.0 -19.4 A42.7 42.7 0 0 1 38.0 19.4" fill="none" stroke="#ff0800" stroke-opacity="0.9" stroke-width="1.05" stroke-dasharray="none"/>
<path d="M34.5 -25.1 A42.7 42.7 0 0 1 34.5 25.1" fill="none" stroke="#ffe070" stroke-opacity="0.75" stroke-width="1.0" stroke-dasharray="1.2 1.9"/>
<path d="M-32.7 27.4 A42.7 42.7 0 0 1 -32.7 -27.4" fill="none" stroke="#ddff22" stroke-opacity="0.9" stroke-width="1.3" stroke-dasharray="none"/>
<path d="M-38.0 19.4 A42.7 42.7 0 0 1 -38.0 -19.4" fill="none" stroke="#ff0800" stroke-opacity="0.9" stroke-width="1.05" stroke-dasharray="none"/>
<path d="M-34.5 25.1 A42.7 42.7 0 0 1 -34.5 -25.1" fill="none" stroke="#ffe070" stroke-opacity="0.75" stroke-width="1.0" stroke-dasharray="1.2 1.9"/>
</g>
<g transform="translate(43 236.4)">
<circle r="68.32000000000001" fill="url(#ogc)" mask="url(#mcc)"/>
<circle r="42.7" fill="url(#inc)"/>
<circle r="42.7" fill="url(#vdc)" mask="url(#mac)"/>
<circle r="42.7" fill="url(#rgc)" mask="url(#mbc)"/>
<path d="M-32.7 -27.4 A42.7 42.7 0 0 1 32.7 -27.4" fill="none" stroke="#eef3ff" stroke-opacity="0.85" stroke-width="0.75" stroke-dasharray="2.8 1.7"/>
<path d="M32.7 27.4 A42.7 42.7 0 0 1 -32.7 27.4" fill="none" stroke="#eef3ff" stroke-opacity="0.85" stroke-width="0.75" stroke-dasharray="2.8 1.7"/>
<path d="M32.7 -27.4 A42.7 42.7 0 0 1 32.7 27.4" fill="none" stroke="#ddff22" stroke-opacity="0.9" stroke-width="1.3" stroke-dasharray="none"/>
<path d="M38.0 -19.4 A42.7 42.7 0 0 1 38.0 19.4" fill="none" stroke="#ff0800" stroke-opacity="0.9" stroke-width="1.05" stroke-dasharray="none"/>
<path d="M34.5 -25.1 A42.7 42.7 0 0 1 34.5 25.1" fill="none" stroke="#ffe070" stroke-opacity="0.75" stroke-width="1.0" stroke-dasharray="1.2 1.9"/>
<path d="M-32.7 27.4 A42.7 42.7 0 0 1 -32.7 -27.4" fill="none" stroke="#ddff22" stroke-opacity="0.9" stroke-width="1.3" stroke-dasharray="none"/>
<path d="M-38.0 19.4 A42.7 42.7 0 0 1 -38.0 -19.4" fill="none" stroke="#ff0800" stroke-opacity="0.9" stroke-width="1.05" stroke-dasharray="none"/>
<path d="M-34.5 25.1 A42.7 42.7 0 0 1 -34.5 -25.1" fill="none" stroke="#ffe070" stroke-opacity="0.75" stroke-width="1.0" stroke-dasharray="1.2 1.9"/>
</g>
<g transform="translate(215.9 236.4)">
<circle r="68.32000000000001" fill="url(#ogc)" mask="url(#mcc)"/>
<circle r="42.7" fill="url(#inc)"/>
<circle r="42.7" fill="url(#vdc)" mask="url(#mac)"/>
<circle r="42.7" fill="url(#rgc)" mask="url(#mbc)"/>
<path d="M-32.7 -27.4 A42.7 42.7 0 0 1 32.7 -27.4" fill="none" stroke="#eef3ff" stroke-opacity="0.85" stroke-width="0.75" stroke-dasharray="2.8 1.7"/>
<path d="M32.7 27.4 A42.7 42.7 0 0 1 -32.7 27.4" fill="none" stroke="#eef3ff" stroke-opacity="0.85" stroke-width="0.75" stroke-dasharray="2.8 1.7"/>
<path d="M32.7 -27.4 A42.7 42.7 0 0 1 32.7 27.4" fill="none" stroke="#ddff22" stroke-opacity="0.9" stroke-width="1.3" stroke-dasharray="none"/>
<path d="M38.0 -19.4 A42.7 42.7 0 0 1 38.0 19.4" fill="none" stroke="#ff0800" stroke-opacity="0.9" stroke-width="1.05" stroke-dasharray="none"/>
<path d="M34.5 -25.1 A42.7 42.7 0 0 1 34.5 25.1" fill="none" stroke="#ffe070" stroke-opacity="0.75" stroke-width="1.0" stroke-dasharray="1.2 1.9"/>
<path d="M-32.7 27.4 A42.7 42.7 0 0 1 -32.7 -27.4" fill="none" stroke="#ddff22" stroke-opacity="0.9" stroke-width="1.3" stroke-dasharray="none"/>
<path d="M-38.0 19.4 A42.7 42.7 0 0 1 -38.0 -19.4" fill="none" stroke="#ff0800" stroke-opacity="0.9" stroke-width="1.05" stroke-dasharray="none"/>
<path d="M-34.5 25.1 A42.7 42.7 0 0 1 -34.5 -25.1" fill="none" stroke="#ffe070" stroke-opacity="0.75" stroke-width="1.0" stroke-dasharray="1.2 1.9"/>
</g>
<g transform="translate(43 461)">
<circle r="68.32000000000001" fill="url(#ogc)" mask="url(#mcc)"/>
<circle r="42.7" fill="url(#inc)"/>
<circle r="42.7" fill="url(#vdc)" mask="url(#mac)"/>
<circle r="42.7" fill="url(#rgc)" mask="url(#mbc)"/>
<path d="M-32.7 -27.4 A42.7 42.7 0 0 1 32.7 -27.4" fill="none" stroke="#eef3ff" stroke-opacity="0.85" stroke-width="0.75" stroke-dasharray="2.8 1.7"/>
<path d="M32.7 27.4 A42.7 42.7 0 0 1 -32.7 27.4" fill="none" stroke="#eef3ff" stroke-opacity="0.85" stroke-width="0.75" stroke-dasharray="2.8 1.7"/>
<path d="M32.7 -27.4 A42.7 42.7 0 0 1 32.7 27.4" fill="none" stroke="#ddff22" stroke-opacity="0.9" stroke-width="1.3" stroke-dasharray="none"/>
<path d="M38.0 -19.4 A42.7 42.7 0 0 1 38.0 19.4" fill="none" stroke="#ff0800" stroke-opacity="0.9" stroke-width="1.05" stroke-dasharray="none"/>
<path d="M34.5 -25.1 A42.7 42.7 0 0 1 34.5 25.1" fill="none" stroke="#ffe070" stroke-opacity="0.75" stroke-width="1.0" stroke-dasharray="1.2 1.9"/>
<path d="M-32.7 27.4 A42.7 42.7 0 0 1 -32.7 -27.4" fill="none" stroke="#ddff22" stroke-opacity="0.9" stroke-width="1.3" stroke-dasharray="none"/>
<path d="M-38.0 19.4 A42.7 42.7 0 0 1 -38.0 -19.4" fill="none" stroke="#ff0800" stroke-opacity="0.9" stroke-width="1.05" stroke-dasharray="none"/>
<path d="M-34.5 25.1 A42.7 42.7 0 0 1 -34.5 -25.1" fill="none" stroke="#ffe070" stroke-opacity="0.75" stroke-width="1.0" stroke-dasharray="1.2 1.9"/>
</g>
<g transform="translate(215.9 461)">
<circle r="68.32000000000001" fill="url(#ogc)" mask="url(#mcc)"/>
<circle r="42.7" fill="url(#inc)"/>
<circle r="42.7" fill="url(#vdc)" mask="url(#mac)"/>
<circle r="42.7" fill="url(#rgc)" mask="url(#mbc)"/>
<path d="M-32.7 -27.4 A42.7 42.7 0 0 1 32.7 -27.4" fill="none" stroke="#eef3ff" stroke-opacity="0.85" stroke-width="0.75" stroke-dasharray="2.8 1.7"/>
<path d="M32.7 27.4 A42.7 42.7 0 0 1 -32.7 27.4" fill="none" stroke="#eef3ff" stroke-opacity="0.85" stroke-width="0.75" stroke-dasharray="2.8 1.7"/>
<path d="M32.7 -27.4 A42.7 42.7 0 0 1 32.7 27.4" fill="none" stroke="#ddff22" stroke-opacity="0.9" stroke-width="1.3" stroke-dasharray="none"/>
<path d="M38.0 -19.4 A42.7 42.7 0 0 1 38.0 19.4" fill="none" stroke="#ff0800" stroke-opacity="0.9" stroke-width="1.05" stroke-dasharray="none"/>
<path d="M34.5 -25.1 A42.7 42.7 0 0 1 34.5 25.1" fill="none" stroke="#ffe070" stroke-opacity="0.75" stroke-width="1.0" stroke-dasharray="1.2 1.9"/>
<path d="M-32.7 27.4 A42.7 42.7 0 0 1 -32.7 -27.4" fill="none" stroke="#ddff22" stroke-opacity="0.9" stroke-width="1.3" stroke-dasharray="none"/>
<path d="M-38.0 19.4 A42.7 42.7 0 0 1 -38.0 -19.4" fill="none" stroke="#ff0800" stroke-opacity="0.9" stroke-width="1.05" stroke-dasharray="none"/>
<path d="M-34.5 25.1 A42.7 42.7 0 0 1 -34.5 -25.1" fill="none" stroke="#ffe070" stroke-opacity="0.75" stroke-width="1.0" stroke-dasharray="1.2 1.9"/>
</g>
</g>
<text x="40.8" y="234.4" font-family='"Liberation Sans", sans-serif' font-size="10.5" fill="#111" text-anchor="middle">-500</text>
<text x="129.45" y="234.4" font-family='"Liberation Sans", sans-serif' font-size="10.5" fill="#111" text-anchor="middle">0</text>
<text x="214.9" y="234.4" font-family='"Liberation Sans", sans-serif' font-size="10.5" fill="#111" text-anchor="middle">500</text>
<text x="128.45" y="219.9" font-family='"Liberation Serif", serif' font-size="11.3" fill="#222" text-anchor="middle" letter-spacing="0.35">x (nm)</text>
<text x="40.5" y="250.0" font-family='"Liberation Sans", sans-serif' font-size="10.5" fill="#111" text-anchor="end">-800</text>
<text x="40.5" y="275.7" font-family='"Liberation Sans", sans-serif' font-size="10.5" fill="#111" text-anchor="end">-600</text>
<text x="40.5" y="301.3" font-family='"Liberation Sans", sans-serif' font-size="10.5" fill="#111" text-anchor="end">-400</text>
<text x="40.5" y="327.0" font-family='"Liberation Sans", sans-serif' font-size="10.5" fill="#111" text-anchor="end">-200</text>
<text x="40.5" y="352.7" font-family='"Liberation Sans", sans-serif' font-size="10.5" fill="#111" text-anchor="end">0</text>
<text x="40.5" y="378.4" font-family='"Liberation Sans", sans-serif' font-size="10.5" fill="#111" text-anchor="end">200</text>
<text x="40.5" y="404.0" font-family='"Liberation Sans", sans-serif' font-size="10.5" fill="#111" text-anchor="end">400</text>
<text x="40.5" y="429.7" font-family='"Liberation Sans", sans-serif' font-size="10.5" fill="#111" text-anchor="end">600</text>
<text x="40.5" y="455.4" font-family='"Liberation Sans", sans-serif' font-size="10.5" fill="#111" text-anchor="end">800</text>
<text x="14.5" y="349.2" font-family='"Liberation Serif", serif' font-size="11.3" fill="#222" text-anchor="middle" transform="rotate(-90 14.5 349.2)" letter-spacing="0.35">y (nm)</text>
<text x="127" y="285.4" font-family='"Liberation Sans", sans-serif' font-size="12.5" fill="#fff" text-anchor="middle" font-weight="bold">AuHA</text>
<text x="77.6" y="419.7" font-family='"Liberation Serif", serif' font-size="14.2" fill="#f2f4ff" fill-opacity="0.9" letter-spacing="0.95">|<tspan font-style="italic">E</tspan>|<tspan font-size="10.5" dy="-6">2</tspan><tspan dy="6">/|</tspan><tspan font-style="italic">E</tspan><tspan font-size="10" dy="2.5">0</tspan><tspan dy="-2.5">|</tspan><tspan font-size="10.5" dy="-6">2</tspan><tspan dy="6" font-size="12" letter-spacing="0.5"> @ </tspan><tspan letter-spacing="0.05">1.22 eV</tspan></text>
<rect x="223.6" y="236.5" width="11.200000000000017" height="224.5" fill="url(#cbc)"/>
<rect x="223.6" y="236.5" width="11.200000000000017" height="224.5" fill="none" stroke="#333" stroke-width="0.5"/>
<line x1="232.60000000000002" y1="412.0" x2="234.8" y2="412.0" stroke="#222" stroke-width="0.7"/>
<line x1="223.6" y1="412.0" x2="225.79999999999998" y2="412.0" stroke="#222" stroke-width="0.7"/>
<text x="236.60000000000002" y="415.8" font-family='"Liberation Sans", sans-serif' font-size="10.5" fill="#111">5</text>
<line x1="232.60000000000002" y1="363.0" x2="234.8" y2="363.0" stroke="#222" stroke-width="0.7"/>
<line x1="223.6" y1="363.0" x2="225.79999999999998" y2="363.0" stroke="#222" stroke-width="0.7"/>
<text x="236.60000000000002" y="366.8" font-family='"Liberation Sans", sans-serif' font-size="10.5" fill="#111">10</text>
<line x1="232.60000000000002" y1="314.0" x2="234.8" y2="314.0" stroke="#222" stroke-width="0.7"/>
<line x1="223.6" y1="314.0" x2="225.79999999999998" y2="314.0" stroke="#222" stroke-width="0.7"/>
<text x="236.60000000000002" y="317.8" font-family='"Liberation Sans", sans-serif' font-size="10.5" fill="#111">15</text>
<line x1="232.60000000000002" y1="265.0" x2="234.8" y2="265.0" stroke="#222" stroke-width="0.7"/>
<line x1="223.6" y1="265.0" x2="225.79999999999998" y2="265.0" stroke="#222" stroke-width="0.7"/>
<text x="236.60000000000002" y="268.8" font-family='"Liberation Sans", sans-serif' font-size="10.5" fill="#111">20</text>
<text x="3.7" y="233" font-family='"Liberation Sans", sans-serif' font-size="14.6" fill="#000">(c)</text>
<g clip-path="url(#hcd)">
<rect x="307.3" y="238" width="172.89999999999998" height="226.3" fill="#0000a4"/>
<g transform="translate(393.2 351)">
<circle r="68.48" fill="url(#ogd)" mask="url(#mcd)"/>
<circle r="42.8" fill="url(#ind)"/>
<circle r="42.8" fill="url(#vdd)" mask="url(#mad)"/>
<circle r="42.8" fill="url(#rgd)" mask="url(#mbd)"/>
<path d="M-32.8 -27.5 A42.8 42.8 0 0 1 32.8 -27.5" fill="none" stroke="#eef3ff" stroke-opacity="0.85" stroke-width="0.75" stroke-dasharray="2.8 1.7"/>
<path d="M32.8 27.5 A42.8 42.8 0 0 1 -32.8 27.5" fill="none" stroke="#eef3ff" stroke-opacity="0.85" stroke-width="0.75" stroke-dasharray="2.8 1.7"/>
<path d="M32.8 -27.5 A42.8 42.8 0 0 1 32.8 27.5" fill="none" stroke="#00faff" stroke-opacity="0.9" stroke-width="1.0" stroke-dasharray="none"/>
<path d="M38.1 -19.4 A42.8 42.8 0 0 1 38.1 19.4" fill="none" stroke="#55ffaa" stroke-opacity="0.9" stroke-width="0.8" stroke-dasharray="none"/>
<path d="M34.6 -25.2 A42.8 42.8 0 0 1 34.6 25.2" fill="none" stroke="#f0f060" stroke-opacity="0.75" stroke-width="0.8" stroke-dasharray="1.2 1.9"/>
<path d="M-32.8 27.5 A42.8 42.8 0 0 1 -32.8 -27.5" fill="none" stroke="#00faff" stroke-opacity="0.9" stroke-width="1.0" stroke-dasharray="none"/>
<path d="M-38.1 19.4 A42.8 42.8 0 0 1 -38.1 -19.4" fill="none" stroke="#55ffaa" stroke-opacity="0.9" stroke-width="0.8" stroke-dasharray="none"/>
<path d="M-34.6 25.2 A42.8 42.8 0 0 1 -34.6 -25.2" fill="none" stroke="#f0f060" stroke-opacity="0.75" stroke-width="0.8" stroke-dasharray="1.2 1.9"/>
</g>
<g transform="translate(307.3 238)">
<circle r="68.48" fill="url(#ogd)" mask="url(#mcd)"/>
<circle r="42.8" fill="url(#ind)"/>
<circle r="42.8" fill="url(#vdd)" mask="url(#mad)"/>
<circle r="42.8" fill="url(#rgd)" mask="url(#mbd)"/>
<path d="M-32.8 -27.5 A42.8 42.8 0 0 1 32.8 -27.5" fill="none" stroke="#eef3ff" stroke-opacity="0.85" stroke-width="0.75" stroke-dasharray="2.8 1.7"/>
<path d="M32.8 27.5 A42.8 42.8 0 0 1 -32.8 27.5" fill="none" stroke="#eef3ff" stroke-opacity="0.85" stroke-width="0.75" stroke-dasharray="2.8 1.7"/>
<path d="M32.8 -27.5 A42.8 42.8 0 0 1 32.8 27.5" fill="none" stroke="#00faff" stroke-opacity="0.9" stroke-width="1.0" stroke-dasharray="none"/>
<path d="M38.1 -19.4 A42.8 42.8 0 0 1 38.1 19.4" fill="none" stroke="#55ffaa" stroke-opacity="0.9" stroke-width="0.8" stroke-dasharray="none"/>
<path d="M34.6 -25.2 A42.8 42.8 0 0 1 34.6 25.2" fill="none" stroke="#f0f060" stroke-opacity="0.75" stroke-width="0.8" stroke-dasharray="1.2 1.9"/>
<path d="M-32.8 27.5 A42.8 42.8 0 0 1 -32.8 -27.5" fill="none" stroke="#00faff" stroke-opacity="0.9" stroke-width="1.0" stroke-dasharray="none"/>
<path d="M-38.1 19.4 A42.8 42.8 0 0 1 -38.1 -19.4" fill="none" stroke="#55ffaa" stroke-opacity="0.9" stroke-width="0.8" stroke-dasharray="none"/>
<path d="M-34.6 25.2 A42.8 42.8 0 0 1 -34.6 -25.2" fill="none" stroke="#f0f060" stroke-opacity="0.75" stroke-width="0.8" stroke-dasharray="1.2 1.9"/>
</g>
<g transform="translate(480.2 238)">
<circle r="68.48" fill="url(#ogd)" mask="url(#mcd)"/>
<circle r="42.8" fill="url(#ind)"/>
<circle r="42.8" fill="url(#vdd)" mask="url(#mad)"/>
<circle r="42.8" fill="url(#rgd)" mask="url(#mbd)"/>
<path d="M-32.8 -27.5 A42.8 42.8 0 0 1 32.8 -27.5" fill="none" stroke="#eef3ff" stroke-opacity="0.85" stroke-width="0.75" stroke-dasharray="2.8 1.7"/>
<path d="M32.8 27.5 A42.8 42.8 0 0 1 -32.8 27.5" fill="none" stroke="#eef3ff" stroke-opacity="0.85" stroke-width="0.75" stroke-dasharray="2.8 1.7"/>
<path d="M32.8 -27.5 A42.8 42.8 0 0 1 32.8 27.5" fill="none" stroke="#00faff" stroke-opacity="0.9" stroke-width="1.0" stroke-dasharray="none"/>
<path d="M38.1 -19.4 A42.8 42.8 0 0 1 38.1 19.4" fill="none" stroke="#55ffaa" stroke-opacity="0.9" stroke-width="0.8" stroke-dasharray="none"/>
<path d="M34.6 -25.2 A42.8 42.8 0 0 1 34.6 25.2" fill="none" stroke="#f0f060" stroke-opacity="0.75" stroke-width="0.8" stroke-dasharray="1.2 1.9"/>
<path d="M-32.8 27.5 A42.8 42.8 0 0 1 -32.8 -27.5" fill="none" stroke="#00faff" stroke-opacity="0.9" stroke-width="1.0" stroke-dasharray="none"/>
<path d="M-38.1 19.4 A42.8 42.8 0 0 1 -38.1 -19.4" fill="none" stroke="#55ffaa" stroke-opacity="0.9" stroke-width="0.8" stroke-dasharray="none"/>
<path d="M-34.6 25.2 A42.8 42.8 0 0 1 -34.6 -25.2" fill="none" stroke="#f0f060" stroke-opacity="0.75" stroke-width="0.8" stroke-dasharray="1.2 1.9"/>
</g>
<g transform="translate(307.3 464.3)">
<circle r="68.48" fill="url(#ogd)" mask="url(#mcd)"/>
<circle r="42.8" fill="url(#ind)"/>
<circle r="42.8" fill="url(#vdd)" mask="url(#mad)"/>
<circle r="42.8" fill="url(#rgd)" mask="url(#mbd)"/>
<path d="M-32.8 -27.5 A42.8 42.8 0 0 1 32.8 -27.5" fill="none" stroke="#eef3ff" stroke-opacity="0.85" stroke-width="0.75" stroke-dasharray="2.8 1.7"/>
<path d="M32.8 27.5 A42.8 42.8 0 0 1 -32.8 27.5" fill="none" stroke="#eef3ff" stroke-opacity="0.85" stroke-width="0.75" stroke-dasharray="2.8 1.7"/>
<path d="M32.8 -27.5 A42.8 42.8 0 0 1 32.8 27.5" fill="none" stroke="#00faff" stroke-opacity="0.9" stroke-width="1.0" stroke-dasharray="none"/>
<path d="M38.1 -19.4 A42.8 42.8 0 0 1 38.1 19.4" fill="none" stroke="#55ffaa" stroke-opacity="0.9" stroke-width="0.8" stroke-dasharray="none"/>
<path d="M34.6 -25.2 A42.8 42.8 0 0 1 34.6 25.2" fill="none" stroke="#f0f060" stroke-opacity="0.75" stroke-width="0.8" stroke-dasharray="1.2 1.9"/>
<path d="M-32.8 27.5 A42.8 42.8 0 0 1 -32.8 -27.5" fill="none" stroke="#00faff" stroke-opacity="0.9" stroke-width="1.0" stroke-dasharray="none"/>
<path d="M-38.1 19.4 A42.8 42.8 0 0 1 -38.1 -19.4" fill="none" stroke="#55ffaa" stroke-opacity="0.9" stroke-width="0.8" stroke-dasharray="none"/>
<path d="M-34.6 25.2 A42.8 42.8 0 0 1 -34.6 -25.2" fill="none" stroke="#f0f060" stroke-opacity="0.75" stroke-width="0.8" stroke-dasharray="1.2 1.9"/>
</g>
<g transform="translate(480.2 464.3)">
<circle r="68.48" fill="url(#ogd)" mask="url(#mcd)"/>
<circle r="42.8" fill="url(#ind)"/>
<circle r="42.8" fill="url(#vdd)" mask="url(#mad)"/>
<circle r="42.8" fill="url(#rgd)" mask="url(#mbd)"/>
<path d="M-32.8 -27.5 A42.8 42.8 0 0 1 32.8 -27.5" fill="none" stroke="#eef3ff" stroke-opacity="0.85" stroke-width="0.75" stroke-dasharray="2.8 1.7"/>
<path d="M32.8 27.5 A42.8 42.8 0 0 1 -32.8 27.5" fill="none" stroke="#eef3ff" stroke-opacity="0.85" stroke-width="0.75" stroke-dasharray="2.8 1.7"/>
<path d="M32.8 -27.5 A42.8 42.8 0 0 1 32.8 27.5" fill="none" stroke="#00faff" stroke-opacity="0.9" stroke-width="1.0" stroke-dasharray="none"/>
<path d="M38.1 -19.4 A42.8 42.8 0 0 1 38.1 19.4" fill="none" stroke="#55ffaa" stroke-opacity="0.9" stroke-width="0.8" stroke-dasharray="none"/>
<path d="M34.6 -25.2 A42.8 42.8 0 0 1 34.6 25.2" fill="none" stroke="#f0f060" stroke-opacity="0.75" stroke-width="0.8" stroke-dasharray="1.2 1.9"/>
<path d="M-32.8 27.5 A42.8 42.8 0 0 1 -32.8 -27.5" fill="none" stroke="#00faff" stroke-opacity="0.9" stroke-width="1.0" stroke-dasharray="none"/>
<path d="M-38.1 19.4 A42.8 42.8 0 0 1 -38.1 -19.4" fill="none" stroke="#55ffaa" stroke-opacity="0.9" stroke-width="0.8" stroke-dasharray="none"/>
<path d="M-34.6 25.2 A42.8 42.8 0 0 1 -34.6 -25.2" fill="none" stroke="#f0f060" stroke-opacity="0.75" stroke-width="0.8" stroke-dasharray="1.2 1.9"/>
</g>
</g>
<text x="305.1" y="236" font-family='"Liberation Sans", sans-serif' font-size="10.5" fill="#111" text-anchor="middle">-500</text>
<text x="393.75" y="236" font-family='"Liberation Sans", sans-serif' font-size="10.5" fill="#111" text-anchor="middle">0</text>
<text x="479.2" y="236" font-family='"Liberation Sans", sans-serif' font-size="10.5" fill="#111" text-anchor="middle">500</text>
<text x="392.75" y="221.5" font-family='"Liberation Serif", serif' font-size="11.3" fill="#222" text-anchor="middle" letter-spacing="0.35">x (nm)</text>
<text x="304.8" y="250.7" font-family='"Liberation Sans", sans-serif' font-size="10.5" fill="#111" text-anchor="end">-800</text>
<text x="304.8" y="276.7" font-family='"Liberation Sans", sans-serif' font-size="10.5" fill="#111" text-anchor="end">-600</text>
<text x="304.8" y="302.7" font-family='"Liberation Sans", sans-serif' font-size="10.5" fill="#111" text-anchor="end">-400</text>
<text x="304.8" y="328.7" font-family='"Liberation Sans", sans-serif' font-size="10.5" fill="#111" text-anchor="end">-200</text>
<text x="304.8" y="354.7" font-family='"Liberation Sans", sans-serif' font-size="10.5" fill="#111" text-anchor="end">0</text>
<text x="304.8" y="380.7" font-family='"Liberation Sans", sans-serif' font-size="10.5" fill="#111" text-anchor="end">200</text>
<text x="304.8" y="406.7" font-family='"Liberation Sans", sans-serif' font-size="10.5" fill="#111" text-anchor="end">400</text>
<text x="304.8" y="432.7" font-family='"Liberation Sans", sans-serif' font-size="10.5" fill="#111" text-anchor="end">600</text>
<text x="304.8" y="458.7" font-family='"Liberation Sans", sans-serif' font-size="10.5" fill="#111" text-anchor="end">800</text>
<text x="278.8" y="353.1" font-family='"Liberation Serif", serif' font-size="11.3" fill="#222" text-anchor="middle" transform="rotate(-90 278.8 353.1)" letter-spacing="0.35">y (nm)</text>
<text x="397.5" y="287" font-family='"Liberation Sans", sans-serif' font-size="12.6" fill="#fff" text-anchor="middle" font-weight="bold">G-AuHA</text>
<text x="341.9" y="423.8" font-family='"Liberation Serif", serif' font-size="14.2" fill="#f2f4ff" fill-opacity="0.9" letter-spacing="0.95">|<tspan font-style="italic">E</tspan>|<tspan font-size="10.5" dy="-6">2</tspan><tspan dy="6">/|</tspan><tspan font-style="italic">E</tspan><tspan font-size="10" dy="2.5">0</tspan><tspan dy="-2.5">|</tspan><tspan font-size="10.5" dy="-6">2</tspan><tspan dy="6" font-size="12" letter-spacing="0.5"> @ </tspan><tspan letter-spacing="0.05">1.22 eV</tspan></text>
<rect x="488" y="238.5" width="11.5" height="226.0" fill="url(#cbd)"/>
<rect x="488" y="238.5" width="11.5" height="226.0" fill="none" stroke="#333" stroke-width="0.5"/>
<line x1="497.3" y1="428.0" x2="499.5" y2="428.0" stroke="#222" stroke-width="0.7"/>
<line x1="488" y1="428.0" x2="490.2" y2="428.0" stroke="#222" stroke-width="0.7"/>
<text x="501.3" y="431.8" font-family='"Liberation Sans", sans-serif' font-size="10.5" fill="#111">5</text>
<line x1="497.3" y1="391.5" x2="499.5" y2="391.5" stroke="#222" stroke-width="0.7"/>
<line x1="488" y1="391.5" x2="490.2" y2="391.5" stroke="#222" stroke-width="0.7"/>
<text x="501.3" y="395.3" font-family='"Liberation Sans", sans-serif' font-size="10.5" fill="#111">10</text>
<line x1="497.3" y1="355.0" x2="499.5" y2="355.0" stroke="#222" stroke-width="0.7"/>
<line x1="488" y1="355.0" x2="490.2" y2="355.0" stroke="#222" stroke-width="0.7"/>
<text x="501.3" y="358.8" font-family='"Liberation Sans", sans-serif' font-size="10.5" fill="#111">15</text>
<line x1="497.3" y1="318.5" x2="499.5" y2="318.5" stroke="#222" stroke-width="0.7"/>
<line x1="488" y1="318.5" x2="490.2" y2="318.5" stroke="#222" stroke-width="0.7"/>
<text x="501.3" y="322.3" font-family='"Liberation Sans", sans-serif' font-size="10.5" fill="#111">20</text>
<line x1="497.3" y1="282.0" x2="499.5" y2="282.0" stroke="#222" stroke-width="0.7"/>
<line x1="488" y1="282.0" x2="490.2" y2="282.0" stroke="#222" stroke-width="0.7"/>
<text x="501.3" y="285.8" font-family='"Liberation Sans", sans-serif' font-size="10.5" fill="#111">25</text>
<line x1="497.3" y1="245.5" x2="499.5" y2="245.5" stroke="#222" stroke-width="0.7"/>
<line x1="488" y1="245.5" x2="490.2" y2="245.5" stroke="#222" stroke-width="0.7"/>
<text x="501.3" y="249.3" font-family='"Liberation Sans", sans-serif' font-size="10.5" fill="#111">30</text>
<text x="259.4" y="233" font-family='"Liberation Sans", sans-serif' font-size="15.2" fill="#000">(d)</text>
<rect x="44" y="461" width="172.2" height="107" fill="#fff"/>
<path d="M43.6 567.1 L43.7 567.1 L43.9 567.1 L44.1 567.1 L44.3 567.1 L44.4 567.1 L44.6 567.1 L44.8 567.1 L45.0 567.1 L45.1 567.1 L45.3 567.1 L45.5 567.1 L45.7 567.1 L45.8 567.1 L46.0 567.1 L46.2 567.1 L46.4 567.1 L46.5 567.1 L46.7 567.1 L46.9 567.1 L47.1 567.1 L47.2 567.1 L47.4 567.1 L47.6 567.1 L47.7 567.1 L47.9 567.1 L48.1 567.1 L48.3 567.1 L48.4 567.1 L48.6 567.1 L48.8 567.1 L49.0 567.1 L49.1 567.1 L49.3 567.1 L49.5 567.1 L49.7 567.1 L49.8 567.1 L50.0 567.1 L50.2 567.1 L50.4 567.1 L50.5 567.1 L50.7 567.1 L50.9 567.1 L51.1 567.1 L51.2 567.1 L51.4 567.1 L51.6 567.1 L51.8 567.1 L51.9 567.1 L52.1 567.0 L52.3 567.0 L52.5 567.0 L52.6 567.0 L52.8 567.0 L53.0 567.0 L53.2 567.0 L53.3 567.0 L53.5 566.9 L53.7 566.9 L53.8 566.9 L54.0 566.9 L54.2 566.9 L54.4 566.9 L54.5 566.9 L54.7 566.9 L54.9 566.8 L55.1 566.8 L55.2 566.8 L55.4 566.8 L55.6 566.8 L55.8 566.8 L55.9 566.8 L56.1 566.7 L56.3 566.7 L56.5 566.7 L56.6 566.7 L56.8 566.7 L57.0 566.7 L57.2 566.6 L57.3 566.6 L57.5 566.6 L57.7 566.6 L57.9 566.6 L58.0 566.6 L58.2 566.5 L58.4 566.5 L58.6 566.5 L58.7 566.5 L58.9 566.5 L59.1 566.4 L59.3 566.4 L59.4 566.4 L59.6 566.4 L59.8 566.4 L59.9 566.3 L60.1 566.3 L60.3 566.3 L60.5 566.3 L60.6 566.3 L60.8 566.2 L61.0 566.2 L61.2 566.2 L61.3 566.2 L61.5 566.2 L61.7 566.1 L61.9 566.1 L62.0 566.1 L62.2 566.1 L62.4 566.0 L62.6 566.0 L62.7 566.0 L62.9 566.0 L63.1 565.9 L63.3 565.9 L63.4 565.9 L63.6 565.9 L63.8 565.8 L64.0 565.8 L64.1 565.8 L64.3 565.8 L64.5 565.7 L64.7 565.7 L64.8 565.7 L65.0 565.7 L65.2 565.6 L65.4 565.6 L65.5 565.6 L65.7 565.6 L65.9 565.5 L66.0 565.5 L66.2 565.5 L66.4 565.4 L66.6 565.4 L66.7 565.4 L66.9 565.4 L67.1 565.3 L67.3 565.3 L67.4 565.3 L67.6 565.2 L67.8 565.2 L68.0 565.2 L68.1 565.1 L68.3 565.1 L68.5 565.1 L68.7 565.1 L68.8 565.0 L69.0 565.0 L69.2 565.0 L69.4 564.9 L69.5 564.9 L69.7 564.9 L69.9 564.8 L70.1 564.8 L70.2 564.8 L70.4 564.7 L70.6 564.7 L70.8 564.7 L70.9 564.6 L71.1 564.6 L71.3 564.5 L71.4 564.5 L71.6 564.5 L71.8 564.4 L72.0 564.4 L72.1 564.4 L72.3 564.3 L72.5 564.3 L72.7 564.3 L72.8 564.2 L73.0 564.2 L73.2 564.1 L73.4 564.1 L73.5 564.1 L73.7 564.0 L73.9 564.0 L74.1 563.9 L74.2 563.9 L74.4 563.9 L74.6 563.8 L74.8 563.8 L74.9 563.7 L75.1 563.7 L75.3 563.6 L75.5 563.6 L75.6 563.6 L75.8 563.5 L76.0 563.5 L76.2 563.4 L76.3 563.4 L76.5 563.3 L76.7 563.3 L76.9 563.2 L77.0 563.2 L77.2 563.1 L77.4 563.1 L77.5 563.0 L77.7 563.0 L77.9 562.9 L78.1 562.9 L78.2 562.8 L78.4 562.8 L78.6 562.7 L78.8 562.7 L78.9 562.6 L79.1 562.6 L79.3 562.5 L79.5 562.4 L79.6 562.4 L79.8 562.3 L80.0 562.3 L80.2 562.2 L80.3 562.1 L80.5 562.1 L80.7 562.0 L80.9 561.9 L81.0 561.9 L81.2 561.8 L81.4 561.7 L81.6 561.7 L81.7 561.6 L81.9 561.5 L82.1 561.4 L82.3 561.4 L82.4 561.3 L82.6 561.2 L82.8 561.1 L83.0 561.0 L83.1 560.9 L83.3 560.8 L83.5 560.8 L83.6 560.7 L83.8 560.6 L84.0 560.5 L84.2 560.4 L84.3 560.2 L84.5 560.1 L84.7 560.0 L84.9 559.9 L85.0 559.8 L85.2 559.7 L85.4 559.5 L85.6 559.4 L85.7 559.3 L85.9 559.1 L86.1 559.0 L86.3 558.8 L86.4 558.7 L86.6 558.5 L86.8 558.3 L87.0 558.2 L87.1 558.0 L87.3 557.8 L87.5 557.6 L87.7 557.4 L87.8 557.2 L88.0 557.0 L88.2 556.8 L88.4 534.3 L88.5 512.1 L88.7 489.1 L88.9 495.1 L89.1 500.2 L89.2 504.7 L89.4 508.7 L89.6 512.1 L89.7 515.1 L89.9 517.7 L90.1 520.1 L90.3 522.1 L90.4 523.9 L90.6 525.6 L90.8 527.0 L91.0 528.4 L91.1 529.5 L91.3 530.6 L91.5 531.6 L91.7 532.5 L91.8 533.3 L92.0 534.1 L92.2 534.8 L92.4 535.4 L92.5 536.0 L92.7 536.6 L92.9 537.1 L93.1 537.6 L93.2 538.0 L93.4 538.5 L93.6 538.9 L93.8 539.3 L93.9 539.6 L94.1 540.0 L94.3 540.3 L94.5 540.6 L94.6 540.9 L94.8 541.2 L95.0 541.4 L95.1 541.7 L95.3 541.9 L95.5 542.2 L95.7 542.4 L95.8 542.6 L96.0 542.8 L96.2 543.0 L96.4 543.2 L96.5 543.4 L96.7 543.6 L96.9 543.7 L97.1 543.9 L97.2 544.0 L97.4 544.2 L97.6 544.3 L97.8 544.4 L97.9 544.6 L98.1 544.7 L98.3 544.8 L98.5 544.9 L98.6 545.0 L98.8 545.1 L99.0 545.2 L99.2 545.3 L99.3 545.4 L99.5 545.5 L99.7 545.6 L99.9 545.7 L100.0 545.8 L100.2 545.8 L100.4 545.9 L100.6 546.0 L100.7 546.1 L100.9 546.1 L101.1 546.2 L101.2 546.2 L101.4 546.3 L101.6 546.4 L101.8 546.4 L101.9 546.5 L102.1 546.5 L102.3 546.6 L102.5 546.6 L102.6 546.7 L102.8 546.7 L103.0 546.7 L103.2 546.8 L103.3 546.8 L103.5 546.9 L103.7 546.9 L103.9 546.9 L104.0 547.0 L104.2 547.0 L104.4 547.0 L104.6 547.0 L104.7 547.1 L104.9 547.1 L105.1 547.1 L105.3 547.2 L105.4 547.2 L105.6 547.2 L105.8 547.2 L106.0 547.2 L106.1 547.3 L106.3 547.3 L106.5 547.3 L106.7 547.3 L106.8 547.3 L107.0 547.4 L107.2 547.4 L107.3 547.4 L107.5 547.4 L107.7 547.4 L107.9 547.4 L108.0 547.5 L108.2 547.5 L108.4 547.5 L108.6 547.5 L108.7 547.5 L108.9 547.5 L109.1 547.5 L109.3 547.5 L109.4 547.6 L109.6 547.6 L109.8 547.6 L110.0 547.6 L110.1 547.6 L110.3 547.6 L110.5 547.6 L110.7 547.6 L110.8 547.6 L111.0 547.6 L111.2 547.7 L111.4 547.7 L111.5 547.7 L111.7 547.7 L111.9 547.7 L112.1 547.7 L112.2 547.7 L112.4 547.7 L112.6 547.7 L112.8 547.7 L112.9 547.7 L113.1 547.7 L113.3 547.7 L113.4 547.7 L113.6 547.8 L113.8 547.8 L114.0 547.8 L114.1 547.8 L114.3 547.8 L114.5 547.8 L114.7 547.8 L114.8 547.8 L115.0 547.8 L115.2 547.8 L115.4 547.8 L115.5 547.8 L115.7 547.8 L115.9 547.8 L116.1 547.8 L116.2 547.8 L116.4 547.8 L116.6 547.8 L116.8 547.8 L116.9 547.8 L117.1 547.8 L117.3 547.8 L117.5 547.9 L117.6 547.9 L117.8 547.9 L118.0 547.9 L118.2 547.9 L118.3 547.9 L118.5 547.9 L118.7 547.9 L118.8 547.9 L119.0 547.9 L119.2 547.9 L119.4 547.9 L119.5 547.9 L119.7 547.9 L119.9 547.9 L120.1 547.9 L120.2 547.9 L120.4 547.9 L120.6 547.9 L120.8 547.9 L120.9 547.9 L121.1 547.9 L121.3 547.9 L121.5 547.9 L121.6 547.9 L121.8 547.9 L122.0 547.9 L122.2 547.9 L122.3 547.9 L122.5 547.9 L122.7 547.9 L122.9 547.9 L123.0 547.9 L123.2 547.9 L123.4 547.9 L123.6 547.9 L123.7 547.9 L123.9 547.9 L124.1 547.9 L124.3 547.9 L124.4 547.9 L124.6 547.9 L124.8 547.9 L124.9 547.9 L125.1 547.9 L125.3 547.9 L125.5 547.9 L125.6 547.9 L125.8 547.9 L126.0 547.9 L126.2 547.9 L126.3 548.0 L126.5 548.0 L126.7 548.0 L126.9 548.0 L127.0 548.0 L127.2 548.0 L127.4 548.0 L127.6 548.0 L127.7 548.0 L127.9 548.0 L128.1 548.0 L128.3 548.0 L128.4 548.0 L128.6 548.0 L128.8 548.0 L129.0 548.0 L129.1 548.0 L129.3 548.0 L129.5 548.0 L129.7 548.0 L129.8 548.0 L130.0 548.0 L130.2 548.0 L130.4 548.0 L130.5 548.0 L130.7 548.0 L130.9 548.0 L131.0 548.0 L131.2 548.0 L131.4 548.0 L131.6 548.0 L131.7 548.0 L131.9 548.0 L132.1 548.0 L132.3 548.0 L132.4 548.0 L132.6 548.0 L132.8 548.0 L133.0 548.0 L133.1 548.0 L133.3 548.0 L133.5 548.0 L133.7 548.0 L133.8 548.0 L134.0 548.0 L134.2 548.0 L134.4 548.0 L134.5 548.0 L134.7 548.0 L134.9 548.0 L135.1 548.0 L135.2 547.9 L135.4 547.9 L135.6 547.9 L135.8 547.9 L135.9 547.9 L136.1 547.9 L136.3 547.9 L136.5 547.9 L136.6 547.9 L136.8 547.9 L137.0 547.9 L137.1 547.9 L137.3 547.9 L137.5 547.9 L137.7 547.9 L137.8 547.9 L138.0 547.9 L138.2 547.9 L138.4 547.9 L138.5 547.9 L138.7 547.9 L138.9 547.9 L139.1 547.9 L139.2 547.9 L139.4 547.9 L139.6 547.9 L139.8 547.9 L139.9 547.9 L140.1 547.9 L140.3 547.9 L140.5 547.9 L140.6 547.9 L140.8 547.9 L141.0 547.9 L141.2 547.9 L141.3 547.9 L141.5 547.9 L141.7 547.9 L141.9 547.9 L142.0 547.9 L142.2 547.9 L142.4 547.9 L142.6 547.9 L142.7 547.9 L142.9 547.9 L143.1 547.9 L143.2 547.9 L143.4 547.9 L143.6 547.9 L143.8 547.9 L143.9 547.9 L144.1 547.8 L144.3 547.8 L144.5 547.8 L144.6 547.8 L144.8 547.8 L145.0 547.8 L145.2 547.8 L145.3 547.8 L145.5 547.8 L145.7 547.8 L145.9 547.8 L146.0 547.8 L146.2 547.8 L146.4 547.8 L146.6 547.8 L146.7 547.8 L146.9 547.8 L147.1 547.8 L147.3 547.8 L147.4 547.8 L147.6 547.8 L147.8 547.8 L148.0 547.7 L148.1 547.7 L148.3 547.7 L148.5 547.7 L148.6 547.7 L148.8 547.7 L149.0 547.7 L149.2 547.7 L149.3 547.7 L149.5 547.7 L149.7 547.7 L149.9 547.7 L150.0 547.7 L150.2 547.7 L150.4 547.6 L150.6 547.6 L150.7 547.6 L150.9 547.6 L151.1 547.6 L151.3 547.6 L151.4 547.6 L151.6 547.6 L151.8 547.6 L152.0 547.6 L152.1 547.5 L152.3 547.5 L152.5 547.5 L152.7 547.5 L152.8 547.5 L153.0 547.5 L153.2 547.5 L153.4 547.5 L153.5 547.4 L153.7 547.4 L153.9 547.4 L154.1 547.4 L154.2 547.4 L154.4 547.4 L154.6 547.3 L154.7 547.3 L154.9 547.3 L155.1 547.3 L155.3 547.3 L155.4 547.2 L155.6 547.2 L155.8 547.2 L156.0 547.2 L156.1 547.2 L156.3 547.1 L156.5 547.1 L156.7 547.1 L156.8 547.0 L157.0 547.0 L157.2 547.0 L157.4 547.0 L157.5 546.9 L157.7 546.9 L157.9 546.9 L158.1 546.8 L158.2 546.8 L158.4 546.7 L158.6 546.7 L158.8 546.7 L158.9 546.6 L159.1 546.6 L159.3 546.5 L159.5 546.5 L159.6 546.4 L159.8 546.4 L160.0 546.3 L160.2 546.2 L160.3 546.2 L160.5 546.1 L160.7 546.1 L160.8 546.0 L161.0 545.9 L161.2 545.8 L161.4 545.8 L161.5 545.7 L161.7 545.6 L161.9 545.5 L162.1 545.4 L162.2 545.3 L162.4 545.2 L162.6 545.1 L162.8 545.0 L162.9 544.9 L163.1 544.8 L163.3 544.7 L163.5 544.6 L163.6 544.4 L163.8 544.3 L164.0 544.2 L164.2 544.0 L164.3 543.9 L164.5 543.7 L164.7 543.6 L164.9 543.4 L165.0 543.2 L165.2 543.0 L165.4 542.8 L165.6 542.6 L165.7 542.4 L165.9 542.2 L166.1 541.9 L166.3 541.7 L166.4 541.4 L166.6 541.2 L166.8 540.9 L166.9 540.6 L167.1 540.3 L167.3 540.0 L167.5 539.6 L167.6 539.3 L167.8 538.9 L168.0 538.5 L168.2 538.0 L168.3 537.6 L168.5 537.1 L168.7 536.6 L168.9 536.0 L169.0 535.4 L169.2 534.8 L169.4 534.1 L169.6 533.3 L169.7 532.5 L169.9 531.6 L170.1 530.6 L170.3 529.5 L170.4 528.4 L170.6 527.0 L170.8 525.6 L171.0 523.9 L171.1 522.1 L171.3 520.1 L171.5 517.7 L171.7 515.1 L171.8 512.1 L172.0 508.7 L172.2 504.7 L172.3 500.2 L172.5 495.1 L172.7 489.1 L172.9 512.1 L173.0 534.3 L173.2 556.8 L173.4 557.0 L173.6 557.2 L173.7 557.4 L173.9 557.6 L174.1 557.8 L174.3 558.0 L174.4 558.2 L174.6 558.3 L174.8 558.5 L175.0 558.7 L175.1 558.8 L175.3 559.0 L175.5 559.1 L175.7 559.3 L175.8 559.4 L176.0 559.5 L176.2 559.7 L176.4 559.8 L176.5 559.9 L176.7 560.0 L176.9 560.1 L177.1 560.2 L177.2 560.4 L177.4 560.5 L177.6 560.6 L177.8 560.7 L177.9 560.8 L178.1 560.8 L178.3 560.9 L178.4 561.0 L178.6 561.1 L178.8 561.2 L179.0 561.3 L179.1 561.4 L179.3 561.4 L179.5 561.5 L179.7 561.6 L179.8 561.7 L180.0 561.7 L180.2 561.8 L180.4 561.9 L180.5 561.9 L180.7 562.0 L180.9 562.1 L181.1 562.1 L181.2 562.2 L181.4 562.3 L181.6 562.3 L181.8 562.4 L181.9 562.4 L182.1 562.5 L182.3 562.6 L182.5 562.6 L182.6 562.7 L182.8 562.7 L183.0 562.8 L183.2 562.8 L183.3 562.9 L183.5 562.9 L183.7 563.0 L183.9 563.0 L184.0 563.1 L184.2 563.1 L184.4 563.2 L184.5 563.2 L184.7 563.3 L184.9 563.3 L185.1 563.4 L185.2 563.4 L185.4 563.5 L185.6 563.5 L185.8 563.6 L185.9 563.6 L186.1 563.6 L186.3 563.7 L186.5 563.7 L186.6 563.8 L186.8 563.8 L187.0 563.9 L187.2 563.9 L187.3 563.9 L187.5 564.0 L187.7 564.0 L187.9 564.1 L188.0 564.1 L188.2 564.1 L188.4 564.2 L188.6 564.2 L188.7 564.3 L188.9 564.3 L189.1 564.3 L189.3 564.4 L189.4 564.4 L189.6 564.4 L189.8 564.5 L190.0 564.5 L190.1 564.5 L190.3 564.6 L190.5 564.6 L190.6 564.7 L190.8 564.7 L191.0 564.7 L191.2 564.8 L191.3 564.8 L191.5 564.8 L191.7 564.9 L191.9 564.9 L192.0 564.9 L192.2 565.0 L192.4 565.0 L192.6 565.0 L192.7 565.1 L192.9 565.1 L193.1 565.1 L193.3 565.1 L193.4 565.2 L193.6 565.2 L193.8 565.2 L194.0 565.3 L194.1 565.3 L194.3 565.3 L194.5 565.4 L194.7 565.4 L194.8 565.4 L195.0 565.4 L195.2 565.5 L195.4 565.5 L195.5 565.5 L195.7 565.6 L195.9 565.6 L196.0 565.6 L196.2 565.6 L196.4 565.7 L196.6 565.7 L196.7 565.7 L196.9 565.7 L197.1 565.8 L197.3 565.8 L197.4 565.8 L197.6 565.8 L197.8 565.9 L198.0 565.9 L198.1 565.9 L198.3 565.9 L198.5 566.0 L198.7 566.0 L198.8 566.0 L199.0 566.0 L199.2 566.1 L199.4 566.1 L199.5 566.1 L199.7 566.1 L199.9 566.2 L200.1 566.2 L200.2 566.2 L200.4 566.2 L200.6 566.2 L200.8 566.3 L200.9 566.3 L201.1 566.3 L201.3 566.3 L201.5 566.3 L201.6 566.4 L201.8 566.4 L202.0 566.4 L202.1 566.4 L202.3 566.4 L202.5 566.5 L202.7 566.5 L202.8 566.5 L203.0 566.5 L203.2 566.5 L203.4 566.6 L203.5 566.6 L203.7 566.6 L203.9 566.6 L204.1 566.6 L204.2 566.6 L204.4 566.7 L204.6 566.7 L204.8 566.7 L204.9 566.7 L205.1 566.7 L205.3 566.7 L205.5 566.8 L205.6 566.8 L205.8 566.8 L206.0 566.8 L206.2 566.8 L206.3 566.8 L206.5 566.8 L206.7 566.9 L206.9 566.9 L207.0 566.9 L207.2 566.9 L207.4 566.9 L207.6 566.9 L207.7 566.9 L207.9 566.9 L208.1 567.0 L208.2 567.0 L208.4 567.0 L208.6 567.0 L208.8 567.0 L208.9 567.0 L209.1 567.0 L209.3 567.0 L209.5 567.1 L209.6 567.1 L209.8 567.1 L210.0 567.1 L210.2 567.1 L210.3 567.1 L210.5 567.1 L210.7 567.1 L210.9 567.1 L211.0 567.1 L211.2 567.1 L211.4 567.1 L211.6 567.1 L211.7 567.1 L211.9 567.1 L212.1 567.1 L212.3 567.1 L212.4 567.1 L212.6 567.1 L212.8 567.1 L213.0 567.1 L213.1 567.1 L213.3 567.1 L213.5 567.1 L213.7 567.1 L213.8 567.1 L214.0 567.1 L214.2 567.1 L214.3 567.1 L214.5 567.1 L214.7 567.1 L214.9 567.1 L215.0 567.1 L215.2 567.1 L215.4 567.1 L215.6 567.1 L215.7 567.1 L215.9 567.1 L216.1 567.1 L216.3 567.1 L216.4 567.1 L216.6 567.1 L216.8 567.1 L217.0 567.1 L217.1 567.1 L217.3 567.1 L217.5 567.1 L217.7 567.1 L217.8 567.1" fill="none" stroke="#1212d6" stroke-width="1.9" stroke-linejoin="round" stroke-linecap="round" clip-path="url(#ccc)"/>
<rect x="44" y="461" width="172.2" height="107" fill="none" stroke="#555" stroke-width="0.9"/>
<line x1="44" y1="568" x2="44" y2="565.5" stroke="#222" stroke-width="0.7"/>
<line x1="130.1" y1="568" x2="130.1" y2="565.5" stroke="#222" stroke-width="0.7"/>
<line x1="216.2" y1="568" x2="216.2" y2="565.5" stroke="#222" stroke-width="0.7"/>
<line x1="88.7" y1="568" x2="88.7" y2="570" stroke="#555" stroke-width="0.6"/>
<line x1="172.7" y1="568" x2="172.7" y2="570" stroke="#555" stroke-width="0.6"/>
<text x="43.8" y="579.7" font-family='"Liberation Sans", sans-serif' font-size="9.9" fill="#111" text-anchor="middle">-500</text>
<text x="130.4" y="579.7" font-family='"Liberation Sans", sans-serif' font-size="9.9" fill="#111" text-anchor="middle">0</text>
<text x="216.2" y="579.7" font-family='"Liberation Sans", sans-serif' font-size="9.9" fill="#111" text-anchor="middle">500</text>
<text x="129.6" y="588.2" font-family='"Liberation Sans", sans-serif' font-size="10.0" fill="#111" text-anchor="middle">x (nm)</text>
<line x1="44" y1="567.3" x2="46.5" y2="567.3" stroke="#222" stroke-width="0.7"/>
<text x="39.8" y="570.1" font-family='"Liberation Sans", sans-serif' font-size="9.9" fill="#111" text-anchor="end">0</text>
<line x1="44" y1="546.0" x2="46.5" y2="546.0" stroke="#222" stroke-width="0.7"/>
<text x="39.8" y="548.8" font-family='"Liberation Sans", sans-serif' font-size="9.9" fill="#111" text-anchor="end">5</text>
<line x1="44" y1="524.8" x2="46.5" y2="524.8" stroke="#222" stroke-width="0.7"/>
<text x="39.8" y="527.6" font-family='"Liberation Sans", sans-serif' font-size="9.9" fill="#111" text-anchor="end">10</text>
<line x1="44" y1="503.5" x2="46.5" y2="503.5" stroke="#222" stroke-width="0.7"/>
<text x="39.8" y="506.3" font-family='"Liberation Sans", sans-serif' font-size="9.9" fill="#111" text-anchor="end">15</text>
<line x1="44" y1="482.3" x2="46.5" y2="482.3" stroke="#222" stroke-width="0.7"/>
<text x="39.8" y="485.1" font-family='"Liberation Sans", sans-serif' font-size="9.9" fill="#111" text-anchor="end">20</text>
<line x1="44" y1="461.0" x2="46.5" y2="461.0" stroke="#222" stroke-width="0.7"/>
<text x="39.8" y="463.8" font-family='"Liberation Sans", sans-serif' font-size="9.9" fill="#111" text-anchor="end">25</text>
<text x="47.6" y="470.8" font-family='"Liberation Sans", sans-serif' font-size="7.5" fill="#222">cut at y=0</text>
<text x="26.3" y="514.0" font-family='"Liberation Serif", serif' font-size="15" fill="#444" text-anchor="middle" letter-spacing="0.9" transform="rotate(-90 26.3 514.0)">|<tspan font-style="italic">E</tspan>|<tspan font-size="10" dy="-5.5">2</tspan><tspan dy="5.5">/|</tspan><tspan font-style="italic">E</tspan><tspan font-size="10" dy="2.5">0</tspan><tspan dy="-2.5">|</tspan><tspan font-size="10" dy="-5.5">2</tspan></text>
<rect x="308.2" y="464.3" width="172.0" height="106.30000000000001" fill="#fff"/>
<path d="M307.8 568.8 L307.9 568.8 L308.1 568.8 L308.3 568.8 L308.5 568.8 L308.6 568.8 L308.8 568.8 L309.0 568.8 L309.2 568.8 L309.3 568.8 L309.5 568.8 L309.7 568.8 L309.9 568.8 L310.0 568.8 L310.2 568.8 L310.4 568.8 L310.6 568.8 L310.7 568.8 L310.9 568.8 L311.1 568.8 L311.2 568.8 L311.4 568.8 L311.6 568.8 L311.8 568.8 L311.9 568.8 L312.1 568.8 L312.3 568.8 L312.5 568.8 L312.6 568.8 L312.8 568.8 L313.0 568.8 L313.2 568.8 L313.3 568.8 L313.5 568.8 L313.7 568.8 L313.9 568.8 L314.0 568.8 L314.2 568.8 L314.4 568.8 L314.6 568.8 L314.7 568.8 L314.9 568.8 L315.1 568.8 L315.3 568.8 L315.4 568.7 L315.6 568.7 L315.8 568.7 L315.9 568.7 L316.1 568.7 L316.3 568.7 L316.5 568.7 L316.6 568.7 L316.8 568.7 L317.0 568.7 L317.2 568.7 L317.3 568.7 L317.5 568.7 L317.7 568.7 L317.9 568.7 L318.0 568.7 L318.2 568.7 L318.4 568.7 L318.6 568.6 L318.7 568.6 L318.9 568.6 L319.1 568.6 L319.3 568.6 L319.4 568.6 L319.6 568.6 L319.8 568.6 L320.0 568.6 L320.1 568.6 L320.3 568.6 L320.5 568.6 L320.6 568.5 L320.8 568.5 L321.0 568.5 L321.2 568.5 L321.3 568.5 L321.5 568.5 L321.7 568.5 L321.9 568.5 L322.0 568.5 L322.2 568.5 L322.4 568.4 L322.6 568.4 L322.7 568.4 L322.9 568.4 L323.1 568.4 L323.3 568.4 L323.4 568.4 L323.6 568.4 L323.8 568.4 L324.0 568.3 L324.1 568.3 L324.3 568.3 L324.5 568.3 L324.7 568.3 L324.8 568.3 L325.0 568.3 L325.2 568.3 L325.3 568.2 L325.5 568.2 L325.7 568.2 L325.9 568.2 L326.0 568.2 L326.2 568.2 L326.4 568.2 L326.6 568.1 L326.7 568.1 L326.9 568.1 L327.1 568.1 L327.3 568.1 L327.4 568.1 L327.6 568.0 L327.8 568.0 L328.0 568.0 L328.1 568.0 L328.3 568.0 L328.5 568.0 L328.7 567.9 L328.8 567.9 L329.0 567.9 L329.2 567.9 L329.4 567.9 L329.5 567.8 L329.7 567.8 L329.9 567.8 L330.0 567.8 L330.2 567.8 L330.4 567.7 L330.6 567.7 L330.7 567.7 L330.9 567.7 L331.1 567.7 L331.3 567.6 L331.4 567.6 L331.6 567.6 L331.8 567.6 L332.0 567.5 L332.1 567.5 L332.3 567.5 L332.5 567.5 L332.7 567.5 L332.8 567.4 L333.0 567.4 L333.2 567.4 L333.4 567.4 L333.5 567.3 L333.7 567.3 L333.9 567.3 L334.1 567.3 L334.2 567.2 L334.4 567.2 L334.6 567.2 L334.7 567.2 L334.9 567.1 L335.1 567.1 L335.3 567.1 L335.4 567.0 L335.6 567.0 L335.8 567.0 L336.0 567.0 L336.1 566.9 L336.3 566.9 L336.5 566.9 L336.7 566.8 L336.8 566.8 L337.0 566.8 L337.2 566.8 L337.4 566.7 L337.5 566.7 L337.7 566.7 L337.9 566.6 L338.1 566.6 L338.2 566.6 L338.4 566.5 L338.6 566.5 L338.8 566.5 L338.9 566.4 L339.1 566.4 L339.3 566.3 L339.4 566.3 L339.6 566.3 L339.8 566.2 L340.0 566.2 L340.1 566.2 L340.3 566.1 L340.5 566.1 L340.7 566.0 L340.8 566.0 L341.0 566.0 L341.2 565.9 L341.4 565.9 L341.5 565.8 L341.7 565.8 L341.9 565.7 L342.1 565.7 L342.2 565.7 L342.4 565.6 L342.6 565.6 L342.8 565.5 L342.9 565.5 L343.1 565.4 L343.3 565.4 L343.5 565.3 L343.6 565.3 L343.8 565.2 L344.0 565.2 L344.1 565.1 L344.3 565.0 L344.5 565.0 L344.7 564.9 L344.8 564.9 L345.0 564.8 L345.2 564.7 L345.4 564.7 L345.5 564.6 L345.7 564.5 L345.9 564.5 L346.1 564.4 L346.2 564.3 L346.4 564.2 L346.6 564.1 L346.8 564.0 L346.9 563.9 L347.1 563.8 L347.3 563.7 L347.5 563.6 L347.6 563.5 L347.8 563.3 L348.0 563.2 L348.2 563.0 L348.3 562.8 L348.5 562.6 L348.7 562.4 L348.8 562.1 L349.0 561.8 L349.2 561.5 L349.4 561.1 L349.5 560.6 L349.7 560.1 L349.9 559.5 L350.1 558.8 L350.2 557.9 L350.4 557.0 L350.6 555.8 L350.8 554.4 L350.9 552.8 L351.1 550.9 L351.3 548.7 L351.5 546.0 L351.6 542.8 L351.8 539.0 L352.0 534.5 L352.2 529.1 L352.3 522.6 L352.5 514.9 L352.7 505.7 L352.9 493.7 L353.0 499.5 L353.2 504.6 L353.4 509.1 L353.5 513.0 L353.7 516.5 L353.9 519.6 L354.1 522.3 L354.2 524.8 L354.4 527.0 L354.6 528.9 L354.8 530.7 L354.9 532.3 L355.1 533.8 L355.3 535.1 L355.5 536.3 L355.6 537.4 L355.8 538.4 L356.0 539.3 L356.2 540.2 L356.3 540.9 L356.5 541.7 L356.7 542.3 L356.9 543.0 L357.0 543.5 L357.2 544.1 L357.4 544.6 L357.6 545.0 L357.7 545.5 L357.9 545.9 L358.1 546.3 L358.2 546.6 L358.4 547.0 L358.6 547.3 L358.8 547.6 L358.9 547.9 L359.1 548.1 L359.3 548.4 L359.5 548.6 L359.6 548.9 L359.8 549.1 L360.0 549.3 L360.2 549.5 L360.3 549.6 L360.5 549.8 L360.7 550.0 L360.9 550.1 L361.0 550.3 L361.2 550.4 L361.4 550.5 L361.6 550.6 L361.7 550.7 L361.9 550.9 L362.1 551.0 L362.3 551.1 L362.4 551.1 L362.6 551.2 L362.8 551.3 L362.9 551.4 L363.1 551.5 L363.3 551.5 L363.5 551.6 L363.6 551.7 L363.8 551.7 L364.0 551.8 L364.2 551.8 L364.3 551.9 L364.5 551.9 L364.7 552.0 L364.9 552.0 L365.0 552.1 L365.2 552.1 L365.4 552.2 L365.6 552.2 L365.7 552.2 L365.9 552.3 L366.1 552.3 L366.3 552.3 L366.4 552.3 L366.6 552.4 L366.8 552.4 L366.9 552.4 L367.1 552.4 L367.3 552.5 L367.5 552.5 L367.6 552.5 L367.8 552.5 L368.0 552.5 L368.2 552.6 L368.3 552.6 L368.5 552.6 L368.7 552.6 L368.9 552.6 L369.0 552.6 L369.2 552.7 L369.4 552.7 L369.6 552.7 L369.7 552.7 L369.9 552.7 L370.1 552.7 L370.3 552.7 L370.4 552.7 L370.6 552.7 L370.8 552.8 L371.0 552.8 L371.1 552.8 L371.3 552.8 L371.5 552.8 L371.6 552.8 L371.8 552.8 L372.0 552.8 L372.2 552.8 L372.3 552.8 L372.5 552.8 L372.7 552.8 L372.9 552.8 L373.0 552.8 L373.2 552.9 L373.4 552.9 L373.6 552.9 L373.7 552.9 L373.9 552.9 L374.1 552.9 L374.3 552.9 L374.4 552.9 L374.6 552.9 L374.8 552.9 L375.0 552.9 L375.1 552.9 L375.3 552.9 L375.5 552.9 L375.7 552.9 L375.8 552.9 L376.0 552.9 L376.2 552.9 L376.3 552.9 L376.5 552.9 L376.7 552.9 L376.9 552.9 L377.0 552.9 L377.2 553.0 L377.4 553.0 L377.6 553.0 L377.7 553.0 L377.9 553.0 L378.1 553.0 L378.3 553.0 L378.4 553.0 L378.6 553.0 L378.8 553.0 L379.0 553.0 L379.1 553.0 L379.3 553.0 L379.5 553.0 L379.7 553.0 L379.8 553.0 L380.0 553.0 L380.2 553.0 L380.4 553.0 L380.5 553.0 L380.7 553.0 L380.9 553.0 L381.0 553.0 L381.2 553.0 L381.4 553.0 L381.6 553.0 L381.7 553.0 L381.9 553.0 L382.1 553.0 L382.3 553.0 L382.4 553.0 L382.6 553.0 L382.8 553.0 L383.0 553.0 L383.1 553.0 L383.3 553.0 L383.5 553.0 L383.7 553.0 L383.8 553.0 L384.0 553.0 L384.2 553.0 L384.4 553.0 L384.5 553.0 L384.7 553.0 L384.9 553.0 L385.1 553.0 L385.2 553.1 L385.4 553.1 L385.6 553.1 L385.7 553.1 L385.9 553.1 L386.1 553.1 L386.3 553.1 L386.4 553.1 L386.6 553.1 L386.8 553.1 L387.0 553.1 L387.1 553.1 L387.3 553.1 L387.5 553.1 L387.7 553.1 L387.8 553.1 L388.0 553.1 L388.2 553.1 L388.4 553.1 L388.5 553.1 L388.7 553.1 L388.9 553.1 L389.1 553.1 L389.2 553.1 L389.4 553.1 L389.6 553.1 L389.8 553.1 L389.9 553.1 L390.1 553.1 L390.3 553.1 L390.4 553.1 L390.6 553.1 L390.8 553.1 L391.0 553.1 L391.1 553.1 L391.3 553.1 L391.5 553.1 L391.7 553.1 L391.8 553.1 L392.0 553.1 L392.2 553.1 L392.4 553.1 L392.5 553.1 L392.7 553.1 L392.9 553.1 L393.1 553.1 L393.2 553.1 L393.4 553.1 L393.6 553.1 L393.8 553.1 L393.9 553.1 L394.1 553.1 L394.3 553.1 L394.5 553.1 L394.6 553.1 L394.8 553.1 L395.0 553.1 L395.1 553.1 L395.3 553.1 L395.5 553.1 L395.7 553.1 L395.8 553.1 L396.0 553.1 L396.2 553.1 L396.4 553.1 L396.5 553.1 L396.7 553.1 L396.9 553.1 L397.1 553.1 L397.2 553.1 L397.4 553.1 L397.6 553.1 L397.8 553.1 L397.9 553.1 L398.1 553.1 L398.3 553.1 L398.5 553.1 L398.6 553.1 L398.8 553.1 L399.0 553.1 L399.2 553.1 L399.3 553.1 L399.5 553.1 L399.7 553.1 L399.8 553.1 L400.0 553.1 L400.2 553.1 L400.4 553.1 L400.5 553.1 L400.7 553.1 L400.9 553.1 L401.1 553.1 L401.2 553.1 L401.4 553.1 L401.6 553.1 L401.8 553.1 L401.9 553.1 L402.1 553.1 L402.3 553.1 L402.5 553.1 L402.6 553.1 L402.8 553.1 L403.0 553.1 L403.2 553.1 L403.3 553.1 L403.5 553.1 L403.7 553.1 L403.9 553.1 L404.0 553.1 L404.2 553.1 L404.4 553.1 L404.5 553.0 L404.7 553.0 L404.9 553.0 L405.1 553.0 L405.2 553.0 L405.4 553.0 L405.6 553.0 L405.8 553.0 L405.9 553.0 L406.1 553.0 L406.3 553.0 L406.5 553.0 L406.6 553.0 L406.8 553.0 L407.0 553.0 L407.2 553.0 L407.3 553.0 L407.5 553.0 L407.7 553.0 L407.9 553.0 L408.0 553.0 L408.2 553.0 L408.4 553.0 L408.6 553.0 L408.7 553.0 L408.9 553.0 L409.1 553.0 L409.2 553.0 L409.4 553.0 L409.6 553.0 L409.8 553.0 L409.9 553.0 L410.1 553.0 L410.3 553.0 L410.5 553.0 L410.6 553.0 L410.8 553.0 L411.0 553.0 L411.2 553.0 L411.3 553.0 L411.5 553.0 L411.7 553.0 L411.9 553.0 L412.0 553.0 L412.2 553.0 L412.4 553.0 L412.6 552.9 L412.7 552.9 L412.9 552.9 L413.1 552.9 L413.3 552.9 L413.4 552.9 L413.6 552.9 L413.8 552.9 L413.9 552.9 L414.1 552.9 L414.3 552.9 L414.5 552.9 L414.6 552.9 L414.8 552.9 L415.0 552.9 L415.2 552.9 L415.3 552.9 L415.5 552.9 L415.7 552.9 L415.9 552.9 L416.0 552.9 L416.2 552.9 L416.4 552.9 L416.6 552.8 L416.7 552.8 L416.9 552.8 L417.1 552.8 L417.3 552.8 L417.4 552.8 L417.6 552.8 L417.8 552.8 L418.0 552.8 L418.1 552.8 L418.3 552.8 L418.5 552.8 L418.6 552.8 L418.8 552.8 L419.0 552.7 L419.2 552.7 L419.3 552.7 L419.5 552.7 L419.7 552.7 L419.9 552.7 L420.0 552.7 L420.2 552.7 L420.4 552.7 L420.6 552.6 L420.7 552.6 L420.9 552.6 L421.1 552.6 L421.3 552.6 L421.4 552.6 L421.6 552.5 L421.8 552.5 L422.0 552.5 L422.1 552.5 L422.3 552.5 L422.5 552.4 L422.7 552.4 L422.8 552.4 L423.0 552.4 L423.2 552.3 L423.3 552.3 L423.5 552.3 L423.7 552.3 L423.9 552.2 L424.0 552.2 L424.2 552.2 L424.4 552.1 L424.6 552.1 L424.7 552.0 L424.9 552.0 L425.1 551.9 L425.3 551.9 L425.4 551.8 L425.6 551.8 L425.8 551.7 L426.0 551.7 L426.1 551.6 L426.3 551.5 L426.5 551.5 L426.7 551.4 L426.8 551.3 L427.0 551.2 L427.2 551.1 L427.3 551.1 L427.5 551.0 L427.7 550.9 L427.9 550.7 L428.0 550.6 L428.2 550.5 L428.4 550.4 L428.6 550.3 L428.7 550.1 L428.9 550.0 L429.1 549.8 L429.3 549.6 L429.4 549.5 L429.6 549.3 L429.8 549.1 L430.0 548.9 L430.1 548.6 L430.3 548.4 L430.5 548.1 L430.7 547.9 L430.8 547.6 L431.0 547.3 L431.2 547.0 L431.4 546.6 L431.5 546.3 L431.7 545.9 L431.9 545.5 L432.0 545.0 L432.2 544.6 L432.4 544.1 L432.6 543.5 L432.7 543.0 L432.9 542.3 L433.1 541.7 L433.3 540.9 L433.4 540.2 L433.6 539.3 L433.8 538.4 L434.0 537.4 L434.1 536.3 L434.3 535.1 L434.5 533.8 L434.7 532.3 L434.8 530.7 L435.0 528.9 L435.2 527.0 L435.4 524.8 L435.5 522.3 L435.7 519.6 L435.9 516.5 L436.1 513.0 L436.2 509.1 L436.4 504.6 L436.6 499.5 L436.7 493.7 L436.9 505.7 L437.1 514.9 L437.3 522.6 L437.4 529.1 L437.6 534.5 L437.8 539.0 L438.0 542.8 L438.1 546.0 L438.3 548.7 L438.5 550.9 L438.7 552.8 L438.8 554.4 L439.0 555.8 L439.2 557.0 L439.4 557.9 L439.5 558.8 L439.7 559.5 L439.9 560.1 L440.1 560.6 L440.2 561.1 L440.4 561.5 L440.6 561.8 L440.8 562.1 L440.9 562.4 L441.1 562.6 L441.3 562.8 L441.4 563.0 L441.6 563.2 L441.8 563.3 L442.0 563.5 L442.1 563.6 L442.3 563.7 L442.5 563.8 L442.7 563.9 L442.8 564.0 L443.0 564.1 L443.2 564.2 L443.4 564.3 L443.5 564.4 L443.7 564.5 L443.9 564.5 L444.1 564.6 L444.2 564.7 L444.4 564.7 L444.6 564.8 L444.8 564.9 L444.9 564.9 L445.1 565.0 L445.3 565.0 L445.5 565.1 L445.6 565.2 L445.8 565.2 L446.0 565.3 L446.1 565.3 L446.3 565.4 L446.5 565.4 L446.7 565.5 L446.8 565.5 L447.0 565.6 L447.2 565.6 L447.4 565.7 L447.5 565.7 L447.7 565.7 L447.9 565.8 L448.1 565.8 L448.2 565.9 L448.4 565.9 L448.6 566.0 L448.8 566.0 L448.9 566.0 L449.1 566.1 L449.3 566.1 L449.5 566.2 L449.6 566.2 L449.8 566.2 L450.0 566.3 L450.2 566.3 L450.3 566.3 L450.5 566.4 L450.7 566.4 L450.8 566.5 L451.0 566.5 L451.2 566.5 L451.4 566.6 L451.5 566.6 L451.7 566.6 L451.9 566.7 L452.1 566.7 L452.2 566.7 L452.4 566.8 L452.6 566.8 L452.8 566.8 L452.9 566.8 L453.1 566.9 L453.3 566.9 L453.5 566.9 L453.6 567.0 L453.8 567.0 L454.0 567.0 L454.2 567.0 L454.3 567.1 L454.5 567.1 L454.7 567.1 L454.9 567.2 L455.0 567.2 L455.2 567.2 L455.4 567.2 L455.5 567.3 L455.7 567.3 L455.9 567.3 L456.1 567.3 L456.2 567.4 L456.4 567.4 L456.6 567.4 L456.8 567.4 L456.9 567.5 L457.1 567.5 L457.3 567.5 L457.5 567.5 L457.6 567.5 L457.8 567.6 L458.0 567.6 L458.2 567.6 L458.3 567.6 L458.5 567.7 L458.7 567.7 L458.9 567.7 L459.0 567.7 L459.2 567.7 L459.4 567.8 L459.6 567.8 L459.7 567.8 L459.9 567.8 L460.1 567.8 L460.2 567.9 L460.4 567.9 L460.6 567.9 L460.8 567.9 L460.9 567.9 L461.1 568.0 L461.3 568.0 L461.5 568.0 L461.6 568.0 L461.8 568.0 L462.0 568.0 L462.2 568.1 L462.3 568.1 L462.5 568.1 L462.7 568.1 L462.9 568.1 L463.0 568.1 L463.2 568.2 L463.4 568.2 L463.6 568.2 L463.7 568.2 L463.9 568.2 L464.1 568.2 L464.3 568.2 L464.4 568.3 L464.6 568.3 L464.8 568.3 L464.9 568.3 L465.1 568.3 L465.3 568.3 L465.5 568.3 L465.6 568.3 L465.8 568.4 L466.0 568.4 L466.2 568.4 L466.3 568.4 L466.5 568.4 L466.7 568.4 L466.9 568.4 L467.0 568.4 L467.2 568.4 L467.4 568.5 L467.6 568.5 L467.7 568.5 L467.9 568.5 L468.1 568.5 L468.3 568.5 L468.4 568.5 L468.6 568.5 L468.8 568.5 L469.0 568.5 L469.1 568.6 L469.3 568.6 L469.5 568.6 L469.6 568.6 L469.8 568.6 L470.0 568.6 L470.2 568.6 L470.3 568.6 L470.5 568.6 L470.7 568.6 L470.9 568.6 L471.0 568.6 L471.2 568.7 L471.4 568.7 L471.6 568.7 L471.7 568.7 L471.9 568.7 L472.1 568.7 L472.3 568.7 L472.4 568.7 L472.6 568.7 L472.8 568.7 L473.0 568.7 L473.1 568.7 L473.3 568.7 L473.5 568.7 L473.7 568.7 L473.8 568.7 L474.0 568.7 L474.2 568.7 L474.3 568.8 L474.5 568.8 L474.7 568.8 L474.9 568.8 L475.0 568.8 L475.2 568.8 L475.4 568.8 L475.6 568.8 L475.7 568.8 L475.9 568.8 L476.1 568.8 L476.3 568.8 L476.4 568.8 L476.6 568.8 L476.8 568.8 L477.0 568.8 L477.1 568.8 L477.3 568.8 L477.5 568.8 L477.7 568.8 L477.8 568.8 L478.0 568.8 L478.2 568.8 L478.4 568.8 L478.5 568.8 L478.7 568.8 L478.9 568.8 L479.0 568.8 L479.2 568.8 L479.4 568.8 L479.6 568.8 L479.7 568.8 L479.9 568.8 L480.1 568.8 L480.3 568.8 L480.4 568.8 L480.6 568.8 L480.8 568.8 L481.0 568.8 L481.1 568.8 L481.3 568.8 L481.5 568.8 L481.7 568.8 L481.8 568.8" fill="none" stroke="#1212d6" stroke-width="1.9" stroke-linejoin="round" stroke-linecap="round" clip-path="url(#ccd)"/>
<rect x="308.2" y="464.3" width="172.0" height="106.30000000000001" fill="none" stroke="#555" stroke-width="0.9"/>
<line x1="308.2" y1="570.6" x2="308.2" y2="568.1" stroke="#222" stroke-width="0.7"/>
<line x1="394.2" y1="570.6" x2="394.2" y2="568.1" stroke="#222" stroke-width="0.7"/>
<line x1="480.2" y1="570.6" x2="480.2" y2="568.1" stroke="#222" stroke-width="0.7"/>
<line x1="352.8" y1="570.6" x2="352.8" y2="572.6" stroke="#555" stroke-width="0.6"/>
<line x1="436.8" y1="570.6" x2="436.8" y2="572.6" stroke="#555" stroke-width="0.6"/>
<text x="308.0" y="583.2" font-family='"Liberation Sans", sans-serif' font-size="9.9" fill="#111" text-anchor="middle">-500</text>
<text x="394.5" y="583.2" font-family='"Liberation Sans", sans-serif' font-size="9.9" fill="#111" text-anchor="middle">0</text>
<text x="480.2" y="583.2" font-family='"Liberation Sans", sans-serif' font-size="9.9" fill="#111" text-anchor="middle">500</text>
<text x="393.7" y="591.7" font-family='"Liberation Sans", sans-serif' font-size="10.0" fill="#111" text-anchor="middle">x (nm)</text>
<line x1="308.2" y1="569.6" x2="310.7" y2="569.6" stroke="#222" stroke-width="0.7"/>
<text x="304.0" y="572.4" font-family='"Liberation Sans", sans-serif' font-size="9.9" fill="#111" text-anchor="end">0</text>
<line x1="308.2" y1="534.5" x2="310.7" y2="534.5" stroke="#222" stroke-width="0.7"/>
<text x="304.0" y="537.3" font-family='"Liberation Sans", sans-serif' font-size="9.9" fill="#111" text-anchor="end">10</text>
<line x1="308.2" y1="499.3" x2="310.7" y2="499.3" stroke="#222" stroke-width="0.7"/>
<text x="304.0" y="502.1" font-family='"Liberation Sans", sans-serif' font-size="9.9" fill="#111" text-anchor="end">20</text>
<line x1="308.2" y1="464.2" x2="310.7" y2="464.2" stroke="#222" stroke-width="0.7"/>
<text x="304.0" y="467.0" font-family='"Liberation Sans", sans-serif' font-size="9.9" fill="#111" text-anchor="end">30</text>
<text x="311.8" y="474.0" font-family='"Liberation Sans", sans-serif' font-size="10" fill="#222">cut at y=0</text>
<text x="289.3" y="516.95" font-family='"Liberation Serif", serif' font-size="15" fill="#444" text-anchor="middle" letter-spacing="0.9" transform="rotate(-90 289.3 516.95)">|<tspan font-style="italic">E</tspan>|<tspan font-size="10" dy="-5.5">2</tspan><tspan dy="5.5">/|</tspan><tspan font-style="italic">E</tspan><tspan font-size="10" dy="2.5">0</tspan><tspan dy="-2.5">|</tspan><tspan font-size="10" dy="-5.5">2</tspan></text></svg></body></html>
